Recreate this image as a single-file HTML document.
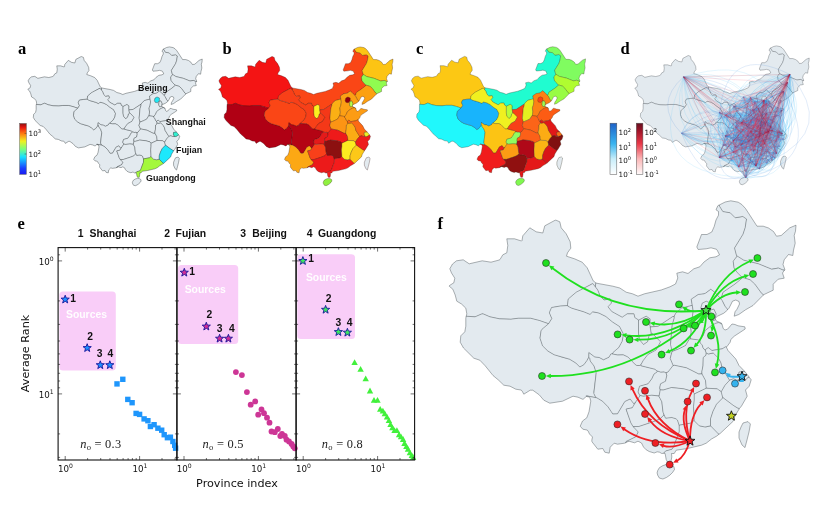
<!DOCTYPE html>
<html><head><meta charset="utf-8"><title>Figure</title>
<style>html,body{margin:0;padding:0;background:#fff}svg{display:block}
</style></head>
<body>
<svg width="830" height="520" viewBox="0 0 830 520" font-family="'Liberation Sans',sans-serif">
<defs><path id="p0" d="M746.8,218.5 743.2,216.2 735.8,217.5 730.8,212.5 723.2,211.2 719.8,205.5 718.8,205.2 717.8,205.8 716,209.8 718.5,211.5 718.5,215.2 716,220 714.2,226.5 711.8,232 707,234.5 701.5,234.5 696.8,247 698.2,249.5 706.2,248.8 711,247.8 716.2,249.2 717,249.8 719.5,254.8 716,256.8 709.8,257.8 704,262 699.8,266.8 693.8,268.8 688,273.5 682.5,271.8 676.8,273.2 677.8,278 675.5,284 670,286.8 661.2,290 644.5,293.8 638,296.2 632.5,293.8 626.2,292.2 619.8,288 612.8,286.2 595.5,283 595,287.2 597.5,290.5 600,296.8 603.5,300.2 610,299.2 611,302.8 607.5,306.2 607.5,306.8 611.2,311.8 622.2,317.8 623.2,317.5 627.8,314 633.5,314 634.5,318 638.2,320.5 639.2,320.5 646.2,316.8 649.8,319.2 649.5,325.8 650.2,327.2 658.8,326.5 673.2,316.8 674.5,316.8 675.8,314 681.8,308.5 692.2,305.8 692.5,304.8 691.5,299.8 697.8,295.2 705.2,293.8 710.5,289.8 714.5,292.8 719.5,298.2 720.8,298.2 722,297.2 722.8,293.5 723.5,292.5 735.5,284.2 743,278 734.5,268 733.5,261.8 737.2,256.8 735,248 743.2,234.8 745.5,228Z"/><path id="p1" d="M595.8,282.8 593.2,280.8 587.2,267.8 582.2,262.2 574.5,258.8 566.5,256.2 567.5,252.8 570.8,248.2 570.2,241.8 566.2,233.8 561.2,227.8 559.8,221.8 556,220.2 555.2,220.2 544.8,225.8 542.8,233 536.2,231.8 529.8,227.8 522.8,235.8 522,240.5 521.5,241 514.5,238.8 506.8,238.8 507.8,245.5 506.8,252.8 502.8,254.8 500,259.5 499.2,260 491,262.2 482.2,260.8 469.2,263.8 463.2,259.8 456.5,260.8 452.5,264 449.8,268.8 451.5,273 454.8,278.2 453.8,282.8 449.5,285.5 449.2,286.2 452.8,289.2 455.2,295 456.8,301.2 461.5,304 465.8,308.2 466.8,313.8 466.2,316.5 475.5,317 482.5,314 489.5,317 499,319 511.2,319.5 519,318.5 530,318.5 539,320.8 548.8,324 552.2,318.5 549.8,312.8 552,307.8 558.8,306.5 567.8,305.8 568.5,299.5 575.5,293.5 592.2,284 594.5,286.8 595.2,287Z"/><path id="p2" d="M466.2,316.2 465.8,318.2 465.8,326.2 464.8,331.8 460.8,335.8 460.2,342.2 463.5,348 473.8,358.2 479.8,360.2 485.2,365.8 493,375.5 498.2,379.8 503.8,385.2 510,386.2 515.8,389.2 521,390 522,390.8 523.8,394.2 530.2,390.2 532.8,390.2 539.2,394.8 543.8,400.2 549.8,403.2 562.5,401.2 573,396.2 578,397.2 582.5,399.2 583.2,399.2 586.8,396 596.2,398 594,392.2 596.5,372.2 594.2,365.5 590.5,360.5 590,358 589.2,357 587.8,357.8 587.5,359 584,363.8 580,366.5 576.2,362.8 570,359 562.2,357 553.2,353.8 548.2,350.8 542.8,345.2 540.2,337.8 541.5,330.5 548,325 548.8,323.8 539.5,320.5 530.5,318.2 518.5,318.2 510.8,319.2 499.5,318.8 490,316.8 483,313.8 482,313.8 475,316.8Z"/><path id="p3" d="M541,330.8 540,338.2 542.5,345.8 547.8,351 554.2,354.8 569.5,359.2 575.8,363 579.8,367 583.8,364.8 587.2,360.2 588,358.2 589,357.5 589.2,353.2 594.2,357.2 599.2,358 603.5,360.2 609.5,357.5 611,354.5 612.5,354 619,348 622.5,341.8 623.8,333.8 620,326.2 613,321.8 606.2,316.2 599.2,312.8 592.2,311.5 589.5,313.8 584.2,311.5 572.2,308 567.8,305.5 560.2,306 551.5,307.5 549.5,312.2 549.5,313.2 551.8,318.5 548.5,323.8 542,329.2Z"/><path id="p4" d="M568.2,299 567.5,304.5 567.8,306.2 571.8,308.2 583.8,311.8 589.5,314.2 590.2,314.2 592.8,311.8 598.8,313 605.8,316.5 612.5,322 619.5,326.5 623.5,334.2 622.2,341.2 618.8,347.5 613,352.5 612.2,354 617.2,355.2 622.8,355 624.8,355.8 629.2,358.8 633,363 636.2,365.8 640.8,365.5 643.5,361 648.8,354.2 656,350.8 661,341.8 661,341.2 653.5,333.8 651,333 649,334.8 647.2,341.2 643.8,344 639.8,339.2 638.8,333.2 638.8,320.2 634.8,317.5 634,313.8 627.2,313.8 622.2,317.2 611.8,311.5 608,306.8 611.5,303 610.2,298.8 604,300 600.2,296.2 597.8,290 592.8,283.5 576.2,292.2Z"/><path id="p5" d="M646.2,316.2 638.5,320.2 638.5,333.8 639.5,339.8 643.5,344.5 647.5,341.8 649.2,335.2 651.5,333.2 651,329 649.8,325.2 650,318.8Z"/><path id="p6" d="M588.8,352.5 588.8,357.2 589.8,358.5 590.2,361 594,366 596.2,372.8 593.8,393.5 596,398 602,401.5 607.8,407.2 612.2,414.2 617.8,414.2 624.8,402.2 629.8,399.5 633.5,404.2 636,402.5 640.5,396 638.5,392.2 638.5,390.8 639.8,386.8 648.5,384 652,379.2 654.2,374.5 657.8,372 657.8,370.8 655.2,369 641.5,365.5 641.2,364.8 639.5,365.5 636.8,365.5 635.5,364.8 628,357 623.2,354.8 617.8,355 611.5,353.8 610.8,354 609,357.2 603.5,359.8 599.2,357.5 594.8,357Z"/><path id="p7" d="M586.2,395.8 586.5,396.5 589.2,397 589.8,397.5 590.8,401 589,411.8 586.8,417.8 582.5,421 580.2,426.2 582.8,429.2 587,430 588,430.8 589.5,434 592.5,437 591.8,440.2 592,441.8 597.8,449.2 602.8,448.5 604.8,452.2 609.2,453.2 610.2,447.2 614.2,443.2 617.5,444.2 624.5,443.2 625.8,442.8 626.5,441.8 636.2,437 638.8,431.5 633.5,426.2 631.5,423.2 626.5,409.8 627.2,409 632.8,408 635.8,403 635.8,402.2 633.8,403.8 630.2,399 624.8,401.5 617.5,413.8 612.8,414 608,406.8 602.5,401.2 596.8,397.8Z"/><path id="p8" d="M674.5,316.5 672.8,316.5 658.2,326.2 650.2,327 651.2,333.2 653,334 660.5,341.8 656,350 647.8,354.5 643.2,360.5 641,364.5 641,365.8 654.8,369.2 657.8,371.5 660.2,372.5 663.8,372.2 665.5,373 668.5,372.2 673,366.5 673.5,365 670.5,358 672,352.5 672.8,351.8 670.8,342.8 672.5,325.2 674.8,317.5Z"/><path id="p9" d="M666.5,373 664.2,372 660.8,372.2 657.5,371 657,372 654,374 651.8,378.8 648,383.8 639.5,386.2 638,392 640,395.8 642.8,396.5 650.8,396 652.2,395.5 659.2,396.2 660.5,391 660,387.8 660.8,384.2 665.8,381.8 667,376Z"/><path id="p10" d="M659.2,396 651.8,395.2 643.2,396.2 640.2,395.5 635.8,401.8 632.2,407.8 626,409 630.8,422.8 633.2,426.8 639.2,426.8 654.2,421.8 660.2,419.2 664.2,415.5 663,410.5 662,401.2Z"/><path id="p11" d="M677.8,419.8 676.5,418.5 672.2,417.2 668.8,417.2 666,418 664.8,415.2 664,415 659.8,419 653.8,421.5 638.8,426.5 633.5,426.5 633.5,427 638.2,432 635.8,436.8 626,441.5 625.5,442.5 629,441.2 634.5,442.8 638,441.2 641.5,443 643.5,447 646.2,449.8 649.2,451.5 654.2,453 657.2,451.8 659.5,452.2 661.8,453.5 664.2,453.2 666,451.2 672.5,449.5 674.8,445.2 677,438 679.5,432.2 679.5,425Z"/><path id="p12" d="M719.2,205 719.5,206.2 722.8,211.5 730.2,212.8 735.2,217.8 742.8,216.5 746.5,219 745.2,227.5 743,234.2 734.5,248 736.5,255.5 737.2,256.8 743.2,260.5 758,264 771.2,269.5 778,268.2 782.5,270.2 784.5,270.2 785,269.8 783,264.5 784.2,259.8 788.5,254.5 792.8,255.5 793.5,250.2 795.2,243.2 794.2,235.5 795.5,231.2 796,225.2 789.8,227.8 781.2,235.5 776.5,236.2 773.5,231.5 768.5,228 763.2,226.2 757,226.2 745.5,208.5 741.8,204.5 738.2,202.2 730.8,200.8 725.2,202Z"/><path id="p13" d="M733.2,261.2 734,268 737.2,272.5 742.5,277.8 750.2,280.2 754.5,284.5 761.2,293.8 763,295 773.2,290.2 773.2,284.2 778.2,279.2 784.2,278.2 782.5,273 784.5,270 783,270 778.5,268 771.8,269.2 758.5,263.8 743.8,260.2 737.5,256.2 736.5,256.8Z"/><path id="p14" d="M750.2,279.8 742.8,277.5 735,284 723,292.2 721.5,297.2 719.8,298 720,299 723,302.8 724.8,306.8 727,309.5 727.8,309.5 729,308.2 732.5,301.2 735.8,300 739,301.5 739.5,304 737,309.2 735,311.8 734.2,316.2 738.8,314.5 745.5,309.8 753,305.5 763.2,295.2 763.2,294.5 761.5,293.2 754.8,284Z"/><path id="p15" d="M692.5,305.2 681.2,308.2 675.5,313.5 674.2,316.2 674.2,318 672.2,324.8 670.5,344.5 672.2,351.5 679,349.2 686,345.8 689.5,339.5 690.5,339 691.5,332.8 690.5,323.8 692.5,318.2 693.5,311.5Z"/><path id="p16" d="M710.8,289.2 705.8,293 704,293.8 698.2,294.5 691.2,299.2 693.2,311 692.2,317.8 690.2,323.2 691.2,331.2 690.2,339 700,340.8 703.5,336 705.5,331 711,326.5 717.8,323 718.8,323 719.5,323.8 721.8,324.5 721.5,323.2 716,320.8 715.5,319.2 713.5,320.2 711.5,320.2 709.8,316.8 710.5,310.8 713,309.5 713.8,310 715.8,314 715.2,317.8 715.8,317.8 717.5,316.2 723.8,313.2 727.5,310 727.5,309.2 725,306.2 722,300.2 715,292.5Z"/><path id="p17" d="M706.2,301.2 702.2,303.2 700.8,308 702.2,311.8 706.8,312.8 710.8,308.8 710.8,303.2Z"/><path id="p18" d="M713.8,309 710.2,310.2 709.5,317.2 711.5,321 715.2,320 716,313.5Z"/><path id="p19" d="M672,351.5 670.2,358.5 673.2,365.5 686,368 698.2,374.2 702.2,374 702,372.2 703.2,366 703.5,358 706.2,355.8 706.5,352.5 705.5,350 704.2,349 703.2,347.2 702.5,344.5 700.5,342.5 700.2,340.5 697.8,339.8 689.5,338.8 685.5,345.5 678.5,349Z"/><path id="p20" d="M744.8,326.8 738,325.8 735,324.5 732,324 727.5,329.2 725,330 723.2,328.5 722,324.2 718.8,322.5 715.8,323.2 710.5,326.2 705.2,330.5 703.2,335.5 699.8,340.2 700.2,343 702.2,345 703,347.8 705,350.2 708.2,348.2 711.2,350.8 723.5,348.8 726.8,346.8 730.2,342.2 730.8,339.5 734.5,336 745.2,329Z"/><path id="p21" d="M659.8,387.2 659.8,389 660.8,390.2 663.8,390.2 672,387.8 683.2,389 691.2,391.2 694.2,394.2 706.8,388.5 705.8,380 702.5,373.8 698.8,374 686.5,367.8 674.2,365.2 672.8,365.8 668,372 666,372.8 666.8,375.5 665.5,381.2 660.5,383.8Z"/><path id="p22" d="M660.2,389.8 659,396.5 661.8,401.8 663,412.2 665.5,418.2 671.8,417.5 676,418.8 677.5,420.2 679.2,425.5 691.5,423.2 694.5,420.8 694.5,415.2 693.8,409 694.5,400.8 694.5,393.8 692.2,391.2 683.8,388.8 671.5,387.5 663.2,390Z"/><path id="p23" d="M718.8,433.2 711,425.5 706,426.8 700.5,425.8 694.8,420.5 694,420.5 691,423 679.2,425.2 679.2,431.8 673.5,446.8 672,449.2 665.5,451 664,452.8 664,453.2 664.8,453.2 665.2,454 666.2,459.5 667.5,462.2 670.8,462.2 671.8,457 671.5,453.5 674.2,453.5 676.2,450.2 687.5,448.5 701.5,445.2 706.2,443.2 711.5,439 716.8,436 719,434.2Z"/><path id="p24" d="M706.2,352.5 706,355.2 703.2,357.5 703,365.5 701.8,371.8 702,374 705.5,380.5 706.2,388.2 710.8,389 716.8,389 718.5,390.5 721.8,392 725.2,385.8 729.5,381.2 730,380 722.5,368 721.2,362.5 718.8,357.8 713.8,352.8 708.8,353.8Z"/><path id="p25" d="M717.2,388.8 706.2,388.2 694.2,394 694.2,400.2 693.5,406.5 694.2,420.8 699.2,425.8 705,427 710.8,425.8 710.8,419.2 713.2,411.8 716.8,404.8 723,398.2 722,392.2Z"/><path id="p26" d="M705.2,349.8 706,352.8 708.2,354 713.2,353 718.5,358.2 721,363 722,368 729.5,380.2 730.8,380.2 733,379.2 736.5,380.5 740.2,380.2 740,377 738.8,376 739.2,372.5 744.5,371.8 744.5,371.2 739,365.5 735.8,359 728,350.5 726.2,346.8 725.5,346.8 722.2,348.8 712,350.5 708.2,347.5Z"/><path id="p27" d="M749,377 747.2,377.2 746,379 742.2,380.2 737,380.2 733.5,378.8 729.8,380 725,385.2 721.2,391.8 722.8,398 733,405.8 737,408.2 739.2,408.8 741.5,406 747.2,396.2 745.5,390 749.2,386.2 751.2,379.8Z"/><path id="p28" d="M723.2,397.8 722.8,397.8 716.5,404.2 713,411.2 710.5,418.8 710.5,425.8 718.5,434 719.8,433.8 733.2,421.2 735,415.8 739.2,409 739.2,408.5 737.5,408 733.5,405.5Z"/><path id="p29" d="M744.8,371.5 739,372 738.5,376.5 739.8,377.5 740.2,380.5 742.8,380.5 746.5,379.2 747.8,377.5 748.8,377.2 748.8,376.5Z"/><path id="p30" d="M657.7,470.6 659.4,467.7 662.9,465.6 667,464.3 671,464.8 673.9,466.6 674.5,469.5 672.7,472.3 669.8,475.2 666.4,477.5 662.9,479 659.4,478.1 657.7,475.2 657.1,472.9Z"/><path id="p31" d="M743,423 748,421.6 750.4,424 749,432 747,440 745,447.6 742,445 739,438 739,432 741,427Z"/></defs>
<g transform="translate(-198.15,-53.30) scale(0.503,0.499)" stroke="#2c3236" stroke-width="0.80" stroke-linejoin="round"><use href="#p0" fill="#e3eaef"/><use href="#p1" fill="#e3eaef"/><use href="#p2" fill="#e3eaef"/><use href="#p3" fill="#e3eaef"/><use href="#p4" fill="#e3eaef"/><use href="#p5" fill="#e3eaef"/><use href="#p6" fill="#e3eaef"/><use href="#p7" fill="#e3eaef"/><use href="#p8" fill="#e3eaef"/><use href="#p9" fill="#e3eaef"/><use href="#p10" fill="#e3eaef"/><use href="#p11" fill="#e3eaef"/><use href="#p12" fill="#e3eaef"/><use href="#p13" fill="#e3eaef"/><use href="#p14" fill="#e3eaef"/><use href="#p15" fill="#e3eaef"/><use href="#p16" fill="#e3eaef"/><use href="#p17" fill="#20e8f4"/><use href="#p18" fill="#e3eaef"/><use href="#p19" fill="#e3eaef"/><use href="#p20" fill="#e3eaef"/><use href="#p21" fill="#e3eaef"/><use href="#p22" fill="#e3eaef"/><use href="#p23" fill="#a4f83c"/><use href="#p24" fill="#e3eaef"/><use href="#p25" fill="#e3eaef"/><use href="#p26" fill="#e3eaef"/><use href="#p27" fill="#e3eaef"/><use href="#p28" fill="#1ce8fc"/><use href="#p29" fill="#30f0d0"/><use href="#p30" fill="#e3eaef"/><use href="#p31" fill="#e3eaef"/></g><g transform="translate(-7.35,-53.30) scale(0.503,0.499)" stroke="#301010" stroke-width="0.60" stroke-linejoin="round"><use href="#p0" fill="#fa4616"/><use href="#p1" fill="#f41414"/><use href="#p2" fill="#b00014"/><use href="#p3" fill="#fa4616"/><use href="#p4" fill="#f84018"/><use href="#p5" fill="#fcf020"/><use href="#p6" fill="#b40414"/><use href="#p7" fill="#fca814"/><use href="#p8" fill="#f43818"/><use href="#p9" fill="#e41a1a"/><use href="#p10" fill="#f8401a"/><use href="#p11" fill="#ec1a1a"/><use href="#p12" fill="#fcc414"/><use href="#p13" fill="#90fc50"/><use href="#p14" fill="#fca010"/><use href="#p15" fill="#fbb014"/><use href="#p16" fill="#fca014"/><use href="#p17" fill="#900010"/><use href="#p18" fill="#b4fc48"/><use href="#p19" fill="#fc9414"/><use href="#p20" fill="#fc9c14"/><use href="#p21" fill="#ee1a1a"/><use href="#p22" fill="#8c1010"/><use href="#p23" fill="#f41c1c"/><use href="#p24" fill="#fcac14"/><use href="#p25" fill="#fcec20"/><use href="#p26" fill="#fc6a14"/><use href="#p27" fill="#ee1c1c"/><use href="#p28" fill="#fcc818"/><use href="#p29" fill="#e8f428"/><use href="#p30" fill="#90f040"/><use href="#p31" fill="#e3eaef"/></g><g transform="translate(185.15,-53.50) scale(0.503,0.499)" stroke="#303020" stroke-width="0.60" stroke-linejoin="round"><use href="#p0" fill="#20fcd0"/><use href="#p1" fill="#fcc814"/><use href="#p2" fill="#20f8fc"/><use href="#p3" fill="#18b4fc"/><use href="#p4" fill="#f0f020"/><use href="#p5" fill="#b8fc38"/><use href="#p6" fill="#fcc414"/><use href="#p7" fill="#f01c1c"/><use href="#p8" fill="#f84018"/><use href="#p9" fill="#90fc60"/><use href="#p10" fill="#fc9c14"/><use href="#p11" fill="#901010"/><use href="#p12" fill="#80fc60"/><use href="#p13" fill="#b0fc30"/><use href="#p14" fill="#98fc44"/><use href="#p15" fill="#e4f020"/><use href="#p16" fill="#fc8014"/><use href="#p17" fill="#fc4014"/><use href="#p18" fill="#a0fc50"/><use href="#p19" fill="#fc6418"/><use href="#p20" fill="#fc5c14"/><use href="#p21" fill="#fc6018"/><use href="#p22" fill="#b00818"/><use href="#p23" fill="#e41818"/><use href="#p24" fill="#fcac14"/><use href="#p25" fill="#fcb414"/><use href="#p26" fill="#e01818"/><use href="#p27" fill="#801010"/><use href="#p28" fill="#d81418"/><use href="#p29" fill="#fc7014"/><use href="#p30" fill="#80f850"/><use href="#p31" fill="#e3eaef"/></g><g transform="translate(408.85,-54.30) scale(0.503,0.499)" stroke="#3a4248" stroke-width="0.66" stroke-linejoin="round"><use href="#p0" fill="#e3eaef"/><use href="#p1" fill="#e3eaef"/><use href="#p2" fill="#e3eaef"/><use href="#p3" fill="#e3eaef"/><use href="#p4" fill="#e3eaef"/><use href="#p5" fill="#e3eaef"/><use href="#p6" fill="#e3eaef"/><use href="#p7" fill="#e3eaef"/><use href="#p8" fill="#e3eaef"/><use href="#p9" fill="#e3eaef"/><use href="#p10" fill="#e3eaef"/><use href="#p11" fill="#e3eaef"/><use href="#p12" fill="#e3eaef"/><use href="#p13" fill="#e3eaef"/><use href="#p14" fill="#e3eaef"/><use href="#p15" fill="#e3eaef"/><use href="#p16" fill="#e3eaef"/><use href="#p17" fill="#e3eaef"/><use href="#p18" fill="#e3eaef"/><use href="#p19" fill="#e3eaef"/><use href="#p20" fill="#e3eaef"/><use href="#p21" fill="#e3eaef"/><use href="#p22" fill="#e3eaef"/><use href="#p23" fill="#e3eaef"/><use href="#p24" fill="#e3eaef"/><use href="#p25" fill="#e3eaef"/><use href="#p26" fill="#e3eaef"/><use href="#p27" fill="#e3eaef"/><use href="#p28" fill="#e3eaef"/><use href="#p29" fill="#e3eaef"/><use href="#p30" fill="#e3eaef"/><use href="#p31" fill="#e3eaef"/></g><g transform="translate(0.00,0.00) scale(1,1)" stroke="#4a5258" stroke-width="0.45" stroke-linejoin="round"><use href="#p0" fill="#e3eaef"/><use href="#p1" fill="#e3eaef"/><use href="#p2" fill="#e3eaef"/><use href="#p3" fill="#e3eaef"/><use href="#p4" fill="#e3eaef"/><use href="#p5" fill="#e3eaef"/><use href="#p6" fill="#e3eaef"/><use href="#p7" fill="#e3eaef"/><use href="#p8" fill="#e3eaef"/><use href="#p9" fill="#e3eaef"/><use href="#p10" fill="#e3eaef"/><use href="#p11" fill="#e3eaef"/><use href="#p12" fill="#e3eaef"/><use href="#p13" fill="#e3eaef"/><use href="#p14" fill="#e3eaef"/><use href="#p15" fill="#e3eaef"/><use href="#p16" fill="#e3eaef"/><use href="#p17" fill="#e3eaef"/><use href="#p18" fill="#e3eaef"/><use href="#p19" fill="#e3eaef"/><use href="#p20" fill="#e3eaef"/><use href="#p21" fill="#e3eaef"/><use href="#p22" fill="#e3eaef"/><use href="#p23" fill="#e3eaef"/><use href="#p24" fill="#e3eaef"/><use href="#p25" fill="#e3eaef"/><use href="#p26" fill="#e3eaef"/><use href="#p27" fill="#e3eaef"/><use href="#p28" fill="#e3eaef"/><use href="#p29" fill="#e3eaef"/><use href="#p30" fill="#e3eaef"/><use href="#p31" fill="#e3eaef"/></g>
<text x="18" y="54" font-family="'Liberation Serif',serif" font-weight="bold" font-size="16.5" fill="#000">a</text>
<text x="222.5" y="54" font-family="'Liberation Serif',serif" font-weight="bold" font-size="16.5" fill="#000">b</text>
<text x="416" y="54" font-family="'Liberation Serif',serif" font-weight="bold" font-size="16.5" fill="#000">c</text>
<text x="620.5" y="54" font-family="'Liberation Serif',serif" font-weight="bold" font-size="16.5" fill="#000">d</text>
<text x="17.5" y="228.6" font-family="'Liberation Serif',serif" font-weight="bold" font-size="16.5" fill="#000">e</text>
<text x="437.6" y="228.6" font-family="'Liberation Serif',serif" font-weight="bold" font-size="16.5" fill="#000">f</text>
<text x="138" y="91.1" font-weight="bold" font-size="8.9" fill="#111">Beijing</text>
<text x="165.8" y="125.2" font-weight="bold" font-size="8.9" fill="#111">Shanghai</text>
<text x="176" y="152.6" font-weight="bold" font-size="8.9" fill="#111">Fujian</text>
<text x="146" y="181.1" font-weight="bold" font-size="8.9" fill="#111">Guangdong</text>
<defs><linearGradient id="jet" x1="0" y1="1" x2="0" y2="0"><stop offset="0" stop-color="#1a1af0"/><stop offset="0.12" stop-color="#1a40ff"/><stop offset="0.34" stop-color="#18e0ff"/><stop offset="0.5" stop-color="#7cff7a"/><stop offset="0.65" stop-color="#f0f020"/><stop offset="0.8" stop-color="#ff7a10"/><stop offset="0.92" stop-color="#e81810"/><stop offset="1" stop-color="#8c1010"/></linearGradient><linearGradient id="gblue" x1="0" y1="1" x2="0" y2="0"><stop offset="0" stop-color="#ffffff"/><stop offset="0.3" stop-color="#c8eefa"/><stop offset="0.6" stop-color="#38b4f0"/><stop offset="1" stop-color="#1e62c8"/></linearGradient><linearGradient id="gred" x1="0" y1="1" x2="0" y2="0"><stop offset="0" stop-color="#fffafa"/><stop offset="0.3" stop-color="#fcb8b8"/><stop offset="0.6" stop-color="#e83848"/><stop offset="0.85" stop-color="#a01428"/><stop offset="1" stop-color="#641020"/></linearGradient></defs>
<rect x="19.6" y="123.4" width="6.8" height="51" fill="url(#jet)" stroke="#666" stroke-width="0.5"/>
<text x="28.6" y="136" font-family="'DejaVu Sans',sans-serif" font-size="7.2" text-anchor="start" fill="#111">10<tspan dy="-3.02" font-size="5.04">3</tspan></text>
<text x="28.6" y="156.6" font-family="'DejaVu Sans',sans-serif" font-size="7.2" text-anchor="start" fill="#111">10<tspan dy="-3.02" font-size="5.04">2</tspan></text>
<text x="28.6" y="177.2" font-family="'DejaVu Sans',sans-serif" font-size="7.2" text-anchor="start" fill="#111">10<tspan dy="-3.02" font-size="5.04">1</tspan></text>
<path d="M24.6,133.4h1.8M24.6,154h1.8M615,132.9h1.8M615,147h1.8M615,160.9h1.8M641.1,132.9h1.8M641.1,147h1.8M641.1,160.9h1.8" stroke="#333" stroke-width="0.5" fill="none"/>
<rect x="610" y="123.2" width="6.8" height="51.2" fill="url(#gblue)" stroke="#555" stroke-width="0.5"/>
<rect x="636.3" y="123.2" width="6.6" height="51.2" fill="url(#gred)" stroke="#555" stroke-width="0.5"/>
<text x="618.6" y="135.4" font-family="'DejaVu Sans',sans-serif" font-size="7.2" text-anchor="start" fill="#111">10<tspan dy="-3.02" font-size="5.04">2</tspan></text>
<text x="618.6" y="149.5" font-family="'DejaVu Sans',sans-serif" font-size="7.2" text-anchor="start" fill="#111">10<tspan dy="-3.02" font-size="5.04">1</tspan></text>
<text x="618.6" y="163.4" font-family="'DejaVu Sans',sans-serif" font-size="7.2" text-anchor="start" fill="#111">10<tspan dy="-3.02" font-size="5.04">0</tspan></text>
<text x="618.6" y="177.2" font-family="'DejaVu Sans',sans-serif" font-size="7.2" text-anchor="start" fill="#111">10<tspan dy="-3.02" font-size="5.04">-1</tspan></text>
<text x="644.6" y="135.4" font-family="'DejaVu Sans',sans-serif" font-size="7.2" text-anchor="start" fill="#111">10<tspan dy="-3.02" font-size="5.04">2</tspan></text>
<text x="644.6" y="149.5" font-family="'DejaVu Sans',sans-serif" font-size="7.2" text-anchor="start" fill="#111">10<tspan dy="-3.02" font-size="5.04">1</tspan></text>
<text x="644.6" y="163.4" font-family="'DejaVu Sans',sans-serif" font-size="7.2" text-anchor="start" fill="#111">10<tspan dy="-3.02" font-size="5.04">0</tspan></text>
<text x="644.6" y="177.2" font-family="'DejaVu Sans',sans-serif" font-size="7.2" text-anchor="start" fill="#111">10<tspan dy="-3.02" font-size="5.04">-1</tspan></text>
<text x="77.7" y="236.6" font-weight="bold" font-size="10.4" fill="#111">1</text>
<text x="89.6" y="236.6" font-weight="bold" font-size="10.4" fill="#111">Shanghai</text>
<text x="164.3" y="236.6" font-weight="bold" font-size="10.4" fill="#111">2</text>
<text x="175.6" y="236.6" font-weight="bold" font-size="10.4" fill="#111">Fujian</text>
<text x="240.3" y="236.6" font-weight="bold" font-size="10.4" fill="#111">3</text>
<text x="252.3" y="236.6" font-weight="bold" font-size="10.4" fill="#111">Beijing</text>
<text x="306.7" y="236.6" font-weight="bold" font-size="10.4" fill="#111">4</text>
<text x="318" y="236.6" font-weight="bold" font-size="10.4" fill="#111">Guangdong</text>
<rect x="59.4" y="291.4" width="56.4" height="79.2" rx="3.5" fill="#f9cdf8"/>
<rect x="178.0" y="265.1" width="60.2" height="78.9" rx="3.5" fill="#f9cdf8"/>
<rect x="297.3" y="254.3" width="57.7" height="84.7" rx="3.5" fill="#f9cdf8"/>
<text x="86.5" y="318.2" font-weight="bold" font-size="10.4" fill="#ffffff" text-anchor="middle" fill-opacity="0.95">Sources</text>
<text x="205.2" y="293.0" font-weight="bold" font-size="10.4" fill="#ffffff" text-anchor="middle" fill-opacity="0.95">Sources</text>
<text x="326.4" y="281.3" font-weight="bold" font-size="10.4" fill="#ffffff" text-anchor="middle" fill-opacity="0.95">Sources</text>
<g fill="#1e96fc"><rect x="114.3" y="381.2" width="5.4" height="5.4"/><rect x="120.1" y="376.6" width="5.4" height="5.4"/><rect x="125.1" y="396.7" width="5.4" height="5.4"/><rect x="129.4" y="400.0" width="5.4" height="5.4"/><rect x="133.4" y="410.7" width="5.4" height="5.4"/><rect x="136.9" y="411.7" width="5.4" height="5.4"/><rect x="141.4" y="416.2" width="5.4" height="5.4"/><rect x="145.2" y="418.0" width="5.4" height="5.4"/><rect x="147.7" y="423.8" width="5.4" height="5.4"/><rect x="151.4" y="422.0" width="5.4" height="5.4"/><rect x="155.2" y="425.5" width="5.4" height="5.4"/><rect x="159.0" y="427.5" width="5.4" height="5.4"/><rect x="161.5" y="432.0" width="5.4" height="5.4"/><rect x="164.7" y="435.0" width="5.4" height="5.4"/><rect x="167.7" y="434.5" width="5.4" height="5.4"/><rect x="170.2" y="438.8" width="5.4" height="5.4"/><rect x="172.0" y="442.6" width="5.4" height="5.4"/><rect x="172.9" y="445.5" width="5.4" height="5.4"/></g>
<g fill="#cd3696"><circle cx="235.9" cy="372.1" r="2.9"/><circle cx="241.9" cy="375.1" r="2.9"/><circle cx="246.9" cy="392.1" r="2.9"/><circle cx="250.7" cy="404.7" r="2.9"/><circle cx="255.2" cy="401.4" r="2.9"/><circle cx="258.2" cy="414.7" r="2.9"/><circle cx="261.5" cy="409.4" r="2.9"/><circle cx="264.0" cy="413.2" r="2.9"/><circle cx="267.0" cy="417.7" r="2.9"/><circle cx="269.5" cy="422.7" r="2.9"/><circle cx="271.5" cy="431.5" r="2.9"/><circle cx="274.8" cy="432.2" r="2.9"/><circle cx="277.8" cy="429.0" r="2.9"/><circle cx="280.3" cy="436.0" r="2.9"/><circle cx="282.0" cy="434.0" r="2.9"/><circle cx="284.8" cy="436.0" r="2.9"/><circle cx="286.5" cy="439.7" r="2.9"/><circle cx="289.0" cy="441.5" r="2.9"/><circle cx="291.6" cy="444.0" r="2.9"/><circle cx="293.3" cy="446.5" r="2.9"/><circle cx="294.8" cy="448.3" r="2.9"/></g>
<g fill="#42f03c"><path d="M354.6,359.3 L357.8,365.1 L351.4,365.1Z"/><path d="M360.6,366.0 L363.8,371.8 L357.4,371.8Z"/><path d="M365.7,375.5 L368.9,381.3 L362.5,381.3Z"/><path d="M370.0,387.6 L373.2,393.4 L366.8,393.4Z"/><path d="M374.0,397.0 L377.2,402.8 L370.8,402.8Z"/><path d="M377.5,397.0 L380.7,402.8 L374.3,402.8Z"/><path d="M380.2,405.9 L383.4,411.7 L377.0,411.7Z"/><path d="M382.9,407.8 L386.1,413.6 L379.7,413.6Z"/><path d="M384.8,410.5 L388.0,416.3 L381.6,416.3Z"/><path d="M387.0,413.7 L390.2,419.5 L383.8,419.5Z"/><path d="M388.9,417.2 L392.1,423.0 L385.7,423.0Z"/><path d="M390.5,421.2 L393.7,427.0 L387.3,427.0Z"/><path d="M392.4,424.5 L395.6,430.3 L389.2,430.3Z"/><path d="M394.5,427.2 L397.7,433.0 L391.3,433.0Z"/><path d="M396.9,427.2 L400.1,433.0 L393.7,433.0Z"/><path d="M399.1,431.5 L402.3,437.3 L395.9,437.3Z"/><path d="M401.0,433.4 L404.2,439.2 L397.8,439.2Z"/><path d="M403.1,436.1 L406.3,441.9 L399.9,441.9Z"/><path d="M404.5,440.1 L407.7,445.9 L401.3,445.9Z"/><path d="M406.4,443.3 L409.6,449.1 L403.2,449.1Z"/><path d="M408.0,446.0 L411.2,451.8 L404.8,451.8Z"/><path d="M409.9,449.5 L413.1,455.3 L406.7,455.3Z"/><path d="M411.8,452.2 L415.0,458.0 L408.6,458.0Z"/><path d="M413.1,454.1 L416.3,459.9 L409.9,459.9Z"/></g>
<polygon points="65.20,295.20 66.26,298.04 69.29,298.17 66.92,300.06 67.73,302.98 65.20,301.31 62.67,302.98 63.48,300.06 61.11,298.17 64.14,298.04" fill="#1e90ff" stroke="#14149a" stroke-width="0.9" stroke-linejoin="miter"/>
<polygon points="87.20,343.70 88.26,346.54 91.29,346.67 88.92,348.56 89.73,351.48 87.20,349.81 84.67,351.48 85.48,348.56 83.11,346.67 86.14,346.54" fill="#1e90ff" stroke="#14149a" stroke-width="0.9" stroke-linejoin="miter"/>
<polygon points="100.30,360.80 101.36,363.64 104.39,363.77 102.02,365.66 102.83,368.58 100.30,366.91 97.77,368.58 98.58,365.66 96.21,363.77 99.24,363.64" fill="#1e90ff" stroke="#14149a" stroke-width="0.9" stroke-linejoin="miter"/>
<polygon points="109.80,360.80 110.86,363.64 113.89,363.77 111.52,365.66 112.33,368.58 109.80,366.91 107.27,368.58 108.08,365.66 105.71,363.77 108.74,363.64" fill="#1e90ff" stroke="#14149a" stroke-width="0.9" stroke-linejoin="miter"/>
<polygon points="184.30,268.30 185.36,271.14 188.39,271.27 186.02,273.16 186.83,276.08 184.30,274.41 181.77,276.08 182.58,273.16 180.21,271.27 183.24,271.14" fill="#d02c96" stroke="#14149a" stroke-width="0.9" stroke-linejoin="miter"/>
<polygon points="206.30,322.20 207.36,325.04 210.39,325.17 208.02,327.06 208.83,329.98 206.30,328.31 203.77,329.98 204.58,327.06 202.21,325.17 205.24,325.04" fill="#d02c96" stroke="#14149a" stroke-width="0.9" stroke-linejoin="miter"/>
<polygon points="219.60,334.30 220.66,337.14 223.69,337.27 221.32,339.16 222.13,342.08 219.60,340.41 217.07,342.08 217.88,339.16 215.51,337.27 218.54,337.14" fill="#d02c96" stroke="#14149a" stroke-width="0.9" stroke-linejoin="miter"/>
<polygon points="228.40,334.30 229.46,337.14 232.49,337.27 230.12,339.16 230.93,342.08 228.40,340.41 225.87,342.08 226.68,339.16 224.31,337.27 227.34,337.14" fill="#d02c96" stroke="#14149a" stroke-width="0.9" stroke-linejoin="miter"/>
<polygon points="302.90,256.60 303.96,259.44 306.99,259.57 304.62,261.46 305.43,264.38 302.90,262.71 300.37,264.38 301.18,261.46 298.81,259.57 301.84,259.44" fill="#3ce860" stroke="#14149a" stroke-width="0.9" stroke-linejoin="miter"/>
<polygon points="325.60,305.40 326.66,308.24 329.69,308.37 327.32,310.26 328.13,313.18 325.60,311.51 323.07,313.18 323.88,310.26 321.51,308.37 324.54,308.24" fill="#3ce860" stroke="#14149a" stroke-width="0.9" stroke-linejoin="miter"/>
<polygon points="338.40,327.70 339.46,330.54 342.49,330.67 340.12,332.56 340.93,335.48 338.40,333.81 335.87,335.48 336.68,332.56 334.31,330.67 337.34,330.54" fill="#3ce860" stroke="#14149a" stroke-width="0.9" stroke-linejoin="miter"/>
<polygon points="347.40,328.30 348.46,331.14 351.49,331.27 349.12,333.16 349.93,336.08 347.40,334.41 344.87,336.08 345.68,333.16 343.31,331.27 346.34,331.14" fill="#3ce860" stroke="#14149a" stroke-width="0.9" stroke-linejoin="miter"/>
<text x="73.2" y="301.8" font-weight="bold" font-size="10.3" fill="#111" text-anchor="middle">1</text>
<text x="90.0" y="339.5" font-weight="bold" font-size="10.3" fill="#111" text-anchor="middle">2</text>
<text x="99.6" y="357.2" font-weight="bold" font-size="10.3" fill="#111" text-anchor="middle">3</text>
<text x="110.3" y="357.2" font-weight="bold" font-size="10.3" fill="#111" text-anchor="middle">4</text>
<text x="192.2" y="274.8" font-weight="bold" font-size="10.3" fill="#111" text-anchor="middle">1</text>
<text x="209.3" y="317.8" font-weight="bold" font-size="10.3" fill="#111" text-anchor="middle">2</text>
<text x="219.6" y="332.3" font-weight="bold" font-size="10.3" fill="#111" text-anchor="middle">3</text>
<text x="231.9" y="332.3" font-weight="bold" font-size="10.3" fill="#111" text-anchor="middle">4</text>
<text x="311.2" y="262.2" font-weight="bold" font-size="10.3" fill="#111" text-anchor="middle">1</text>
<text x="328.5" y="301.8" font-weight="bold" font-size="10.3" fill="#111" text-anchor="middle">2</text>
<text x="338.4" y="326.0" font-weight="bold" font-size="10.3" fill="#111" text-anchor="middle">3</text>
<text x="349.7" y="326.0" font-weight="bold" font-size="10.3" fill="#111" text-anchor="middle">4</text>
<text x="80.2" y="447.8" font-family="'Liberation Serif',serif" font-size="12.4" fill="#222" letter-spacing="0.25"><tspan font-style="italic">n</tspan><tspan font-size="8.6" dy="2.4">o</tspan><tspan dy="-2.4"> = 0.3</tspan></text>
<text x="202.6" y="447.8" font-family="'Liberation Serif',serif" font-size="12.4" fill="#222" letter-spacing="0.25"><tspan font-style="italic">n</tspan><tspan font-size="8.6" dy="2.4">o</tspan><tspan dy="-2.4"> = 0.5</tspan></text>
<text x="321.8" y="447.8" font-family="'Liberation Serif',serif" font-size="12.4" fill="#222" letter-spacing="0.25"><tspan font-style="italic">n</tspan><tspan font-size="8.6" dy="2.4">o</tspan><tspan dy="-2.4"> = 0.8</tspan></text>
<rect x="58.1" y="247.6" width="118.8" height="212.4" fill="none" stroke="#111" stroke-width="1.1"/>
<rect x="176.9" y="247.6" width="119.2" height="212.4" fill="none" stroke="#111" stroke-width="1.1"/>
<rect x="296.1" y="247.6" width="118.5" height="212.4" fill="none" stroke="#111" stroke-width="1.1"/>
<path d="M65.2,460.0 v-4 M65.2,247.6 v4 M87.6,460.0 v-2 M87.6,247.6 v2 M100.7,460.0 v-2 M100.7,247.6 v2 M110.0,460.0 v-2 M110.0,247.6 v2 M117.2,460.0 v-2 M117.2,247.6 v2 M123.1,460.0 v-2 M123.1,247.6 v2 M128.1,460.0 v-2 M128.1,247.6 v2 M132.4,460.0 v-2 M132.4,247.6 v2 M136.2,460.0 v-2 M136.2,247.6 v2 M139.6,460.0 v-4 M139.6,247.6 v4 M162.0,460.0 v-2 M162.0,247.6 v2 M175.1,460.0 v-2 M175.1,247.6 v2 M58.1,254.8 h2 M176.9,254.8 h-2 M58.1,260.9 h4 M176.9,260.9 h-4 M58.1,300.9 h2 M176.9,300.9 h-2 M58.1,324.4 h2 M176.9,324.4 h-2 M58.1,341.0 h2 M176.9,341.0 h-2 M58.1,353.9 h2 M176.9,353.9 h-2 M58.1,364.4 h2 M176.9,364.4 h-2 M58.1,373.3 h2 M176.9,373.3 h-2 M58.1,381.0 h2 M176.9,381.0 h-2 M58.1,387.8 h2 M176.9,387.8 h-2 M58.1,393.9 h4 M176.9,393.9 h-4 M58.1,433.9 h2 M176.9,433.9 h-2 M58.1,457.4 h2 M176.9,457.4 h-2 M184.0,460.0 v-4 M184.0,247.6 v4 M206.4,460.0 v-2 M206.4,247.6 v2 M219.5,460.0 v-2 M219.5,247.6 v2 M228.8,460.0 v-2 M228.8,247.6 v2 M236.0,460.0 v-2 M236.0,247.6 v2 M241.9,460.0 v-2 M241.9,247.6 v2 M246.9,460.0 v-2 M246.9,247.6 v2 M251.2,460.0 v-2 M251.2,247.6 v2 M255.0,460.0 v-2 M255.0,247.6 v2 M258.4,460.0 v-4 M258.4,247.6 v4 M280.8,460.0 v-2 M280.8,247.6 v2 M293.9,460.0 v-2 M293.9,247.6 v2 M176.9,254.8 h2 M296.1,254.8 h-2 M176.9,260.9 h4 M296.1,260.9 h-4 M176.9,300.9 h2 M296.1,300.9 h-2 M176.9,324.4 h2 M296.1,324.4 h-2 M176.9,341.0 h2 M296.1,341.0 h-2 M176.9,353.9 h2 M296.1,353.9 h-2 M176.9,364.4 h2 M296.1,364.4 h-2 M176.9,373.3 h2 M296.1,373.3 h-2 M176.9,381.0 h2 M296.1,381.0 h-2 M176.9,387.8 h2 M296.1,387.8 h-2 M176.9,393.9 h4 M296.1,393.9 h-4 M176.9,433.9 h2 M296.1,433.9 h-2 M176.9,457.4 h2 M296.1,457.4 h-2 M303.2,460.0 v-4 M303.2,247.6 v4 M325.6,460.0 v-2 M325.6,247.6 v2 M338.7,460.0 v-2 M338.7,247.6 v2 M348.0,460.0 v-2 M348.0,247.6 v2 M355.2,460.0 v-2 M355.2,247.6 v2 M361.1,460.0 v-2 M361.1,247.6 v2 M366.1,460.0 v-2 M366.1,247.6 v2 M370.4,460.0 v-2 M370.4,247.6 v2 M374.2,460.0 v-2 M374.2,247.6 v2 M377.6,460.0 v-4 M377.6,247.6 v4 M400.0,460.0 v-2 M400.0,247.6 v2 M413.1,460.0 v-2 M413.1,247.6 v2 M296.1,254.8 h2 M414.6,254.8 h-2 M296.1,260.9 h4 M414.6,260.9 h-4 M296.1,300.9 h2 M414.6,300.9 h-2 M296.1,324.4 h2 M414.6,324.4 h-2 M296.1,341.0 h2 M414.6,341.0 h-2 M296.1,353.9 h2 M414.6,353.9 h-2 M296.1,364.4 h2 M414.6,364.4 h-2 M296.1,373.3 h2 M414.6,373.3 h-2 M296.1,381.0 h2 M414.6,381.0 h-2 M296.1,387.8 h2 M414.6,387.8 h-2 M296.1,393.9 h4 M414.6,393.9 h-4 M296.1,433.9 h2 M414.6,433.9 h-2 M296.1,457.4 h2 M414.6,457.4 h-2 " stroke="#111" stroke-width="0.6" fill="none"/>
<text x="58.0" y="471.8" font-family="'DejaVu Sans',sans-serif" font-size="8.7" text-anchor="start" fill="#111">10<tspan dy="-3.65" font-size="6.09">0</tspan></text>
<text x="132.40000000000003" y="471.8" font-family="'DejaVu Sans',sans-serif" font-size="8.7" text-anchor="start" fill="#111">10<tspan dy="-3.65" font-size="6.09">1</tspan></text>
<text x="176.8" y="471.8" font-family="'DejaVu Sans',sans-serif" font-size="8.7" text-anchor="start" fill="#111">10<tspan dy="-3.65" font-size="6.09">0</tspan></text>
<text x="251.2" y="471.8" font-family="'DejaVu Sans',sans-serif" font-size="8.7" text-anchor="start" fill="#111">10<tspan dy="-3.65" font-size="6.09">1</tspan></text>
<text x="296.00000000000006" y="471.8" font-family="'DejaVu Sans',sans-serif" font-size="8.7" text-anchor="start" fill="#111">10<tspan dy="-3.65" font-size="6.09">0</tspan></text>
<text x="370.40000000000003" y="471.8" font-family="'DejaVu Sans',sans-serif" font-size="8.7" text-anchor="start" fill="#111">10<tspan dy="-3.65" font-size="6.09">1</tspan></text>
<text x="38.8" y="264.7" font-family="'DejaVu Sans',sans-serif" font-size="8.7" text-anchor="start" fill="#111">10<tspan dy="-3.65" font-size="6.09">0</tspan></text>
<text x="38.8" y="397.7" font-family="'DejaVu Sans',sans-serif" font-size="8.7" text-anchor="start" fill="#111">10<tspan dy="-3.65" font-size="6.09">1</tspan></text>
<text x="237" y="486.6" font-family="'DejaVu Sans',sans-serif" font-size="11.2" text-anchor="middle" fill="#111">Province index</text>
<text transform="translate(28.6,353.5) rotate(-90)" font-family="'DejaVu Sans',sans-serif" font-size="11.2" text-anchor="middle" fill="#111">Average Rank</text>
<path d="M706.0,310.3 Q616.5,318.6 552.9,268.5" fill="none" stroke="#1fe01f" stroke-width="1.8" stroke-linecap="round"/><path d="M549.0,265.4 L554.3,266.6 L551.5,270.3Z" fill="#1fe01f"/>
<path d="M706.0,310.3 Q637.1,375.9 550.8,376.0" fill="none" stroke="#1fe01f" stroke-width="1.8" stroke-linecap="round"/><path d="M545.8,376.0 L550.8,373.7 L550.8,378.3Z" fill="#1fe01f"/>
<path d="M706.0,310.3 Q721.2,273.9 749.3,261.5" fill="none" stroke="#1fe01f" stroke-width="1.8" stroke-linecap="round"/><path d="M753.9,259.5 L750.3,263.6 L748.4,259.4Z" fill="#1fe01f"/>
<path d="M706.0,310.3 Q722.2,282.8 744.5,276.4" fill="none" stroke="#1fe01f" stroke-width="1.8" stroke-linecap="round"/><path d="M749.3,275.0 L745.2,278.6 L743.9,274.2Z" fill="#1fe01f"/>
<path d="M706.0,310.3 Q721.8,293.3 736.2,292.5" fill="none" stroke="#1fe01f" stroke-width="1.8" stroke-linecap="round"/><path d="M741.2,292.2 L736.3,294.8 L736.1,290.2Z" fill="#1fe01f"/>
<path d="M706.0,310.3 Q691.3,312.8 686.3,309.3" fill="none" stroke="#1fe01f" stroke-width="1.8" stroke-linecap="round"/><path d="M682.1,306.5 L687.6,307.4 L685.0,311.2Z" fill="#1fe01f"/>
<path d="M706.0,310.3 Q709.9,312.3 708.4,308.1" fill="none" stroke="#1fe01f" stroke-width="1.8" stroke-linecap="round"/><path d="M710.1,312.8 L706.3,308.9 L710.6,307.3Z" fill="#1fe01f"/>
<path d="M706.0,310.3 Q703.6,320.2 702.4,320.9" fill="none" stroke="#1fe01f" stroke-width="1.8" stroke-linecap="round"/><path d="M698.2,323.6 L701.2,318.9 L703.7,322.8Z" fill="#1fe01f"/>
<path d="M706.0,310.3 Q698.4,323.8 692.0,325.8" fill="none" stroke="#1fe01f" stroke-width="1.8" stroke-linecap="round"/><path d="M687.2,327.3 L691.3,323.6 L692.7,328.0Z" fill="#1fe01f"/>
<path d="M706.0,310.3 Q713.6,322.0 712.6,327.0" fill="none" stroke="#1fe01f" stroke-width="1.8" stroke-linecap="round"/><path d="M711.7,331.9 L710.4,326.5 L714.9,327.4Z" fill="#1fe01f"/>
<path d="M706.0,310.3 Q706.6,333.5 696.9,344.1" fill="none" stroke="#1fe01f" stroke-width="1.8" stroke-linecap="round"/><path d="M693.6,347.8 L695.2,342.5 L698.6,345.6Z" fill="#1fe01f"/>
<path d="M706.0,310.3 Q692.7,341.3 669.7,351.1" fill="none" stroke="#1fe01f" stroke-width="1.8" stroke-linecap="round"/><path d="M665.1,353.1 L668.8,349.0 L670.6,353.3Z" fill="#1fe01f"/>
<path d="M706.0,310.3 Q678.3,328.1 654.6,323.6" fill="none" stroke="#1fe01f" stroke-width="1.8" stroke-linecap="round"/><path d="M649.7,322.7 L655.1,321.4 L654.2,325.9Z" fill="#1fe01f"/>
<path d="M706.0,310.3 Q666.6,340.0 626.3,335.4" fill="none" stroke="#1fe01f" stroke-width="1.8" stroke-linecap="round"/><path d="M621.4,334.8 L626.6,333.1 L626.1,337.7Z" fill="#1fe01f"/>
<path d="M706.0,310.3 Q673.7,340.2 638.4,339.7" fill="none" stroke="#1fe01f" stroke-width="1.8" stroke-linecap="round"/><path d="M633.4,339.7 L638.4,337.4 L638.4,342.0Z" fill="#1fe01f"/>
<path d="M706.0,310.3 Q722.9,339.6 717.1,363.8" fill="none" stroke="#1fe01f" stroke-width="1.8" stroke-linecap="round"/><path d="M715.9,368.7 L714.8,363.3 L719.3,364.4Z" fill="#1fe01f"/>
<path d="M690.0,441.0 Q647.6,423.4 632.6,389.4" fill="none" stroke="#ee1f24" stroke-width="1.8" stroke-linecap="round"/><path d="M630.5,384.9 L634.7,388.5 L630.5,390.4Z" fill="#ee1f24"/>
<path d="M690.0,441.0 Q657.5,424.9 648.0,399.1" fill="none" stroke="#ee1f24" stroke-width="1.8" stroke-linecap="round"/><path d="M646.3,394.4 L650.2,398.3 L645.9,399.9Z" fill="#ee1f24"/>
<path d="M690.0,441.0 Q681.5,411.1 691.9,391.3" fill="none" stroke="#ee1f24" stroke-width="1.8" stroke-linecap="round"/><path d="M694.2,386.9 L693.9,392.4 L689.9,390.2Z" fill="#ee1f24"/>
<path d="M690.0,441.0 Q680.9,421.8 684.8,410.0" fill="none" stroke="#ee1f24" stroke-width="1.8" stroke-linecap="round"/><path d="M686.4,405.2 L687.0,410.7 L682.7,409.2Z" fill="#ee1f24"/>
<path d="M690.0,441.0 Q689.8,415.8 701.0,403.8" fill="none" stroke="#ee1f24" stroke-width="1.8" stroke-linecap="round"/><path d="M704.4,400.2 L702.7,405.4 L699.3,402.3Z" fill="#ee1f24"/>
<path d="M690.0,441.0 Q662.1,436.5 650.3,421.0" fill="none" stroke="#ee1f24" stroke-width="1.8" stroke-linecap="round"/><path d="M647.3,417.0 L652.2,419.6 L648.5,422.4Z" fill="#ee1f24"/>
<path d="M690.0,441.0 Q650.4,447.2 624.6,429.4" fill="none" stroke="#ee1f24" stroke-width="1.8" stroke-linecap="round"/><path d="M620.5,426.6 L625.9,427.5 L623.3,431.3Z" fill="#ee1f24"/>
<path d="M690.0,441.0 Q673.1,448.9 663.7,445.8" fill="none" stroke="#ee1f24" stroke-width="1.8" stroke-linecap="round"/><path d="M659.0,444.2 L664.5,443.6 L663.0,448.0Z" fill="#ee1f24"/>
<path d="M690.0,441.0 Q684.6,456.9 677.5,460.5" fill="none" stroke="#ee1f24" stroke-width="1.8" stroke-linecap="round"/><path d="M673.1,462.8 L676.4,458.5 L678.6,462.6Z" fill="#ee1f24"/>
<path d="M742.0,376.4 Q731.1,377.3 729.4,375.9" fill="none" stroke="#35b3ee" stroke-width="2.0" stroke-linecap="round"/><path d="M725.6,372.8 L730.9,374.1 L728.0,377.7Z" fill="#35b3ee"/>
<path d="M742.0,376.4 Q739.9,381.4 743.0,380.0" fill="none" stroke="#35b3ee" stroke-width="2.0" stroke-linecap="round"/><path d="M738.5,382.1 L742.1,377.9 L744.0,382.1Z" fill="#35b3ee"/>
<g fill="#1fe01f" stroke="#222" stroke-width="0.55"><circle cx="546" cy="263" r="3.5"/><circle cx="542" cy="376" r="3.5"/><circle cx="757.4" cy="258" r="3.5"/><circle cx="753" cy="274" r="3.5"/><circle cx="745" cy="292" r="3.5"/><circle cx="679" cy="304.4" r="3.5"/><circle cx="711.4" cy="316.4" r="3.5"/><circle cx="695" cy="325.6" r="3.5"/><circle cx="683.6" cy="328.4" r="3.5"/><circle cx="711" cy="335.6" r="3.5"/><circle cx="691" cy="350.6" r="3.5"/><circle cx="661.6" cy="354.6" r="3.5"/><circle cx="646" cy="322" r="3.5"/><circle cx="617.6" cy="334.4" r="3.5"/><circle cx="629.6" cy="339.6" r="3.5"/><circle cx="715" cy="372.4" r="3.5"/></g>
<g fill="#ee1f24" stroke="#222" stroke-width="0.55"><circle cx="629" cy="381.4" r="3.5"/><circle cx="645" cy="390.8" r="3.5"/><circle cx="696" cy="383.5" r="3.5"/><circle cx="687.6" cy="401.6" r="3.5"/><circle cx="707" cy="397.4" r="3.5"/><circle cx="645" cy="414" r="3.5"/><circle cx="617.4" cy="424.4" r="3.5"/><circle cx="655.4" cy="443" r="3.5"/><circle cx="669.7" cy="464.6" r="3.5"/></g>
<g fill="#35b3ee" stroke="#222" stroke-width="0.55"><circle cx="722.6" cy="370.4" r="3.5"/><circle cx="735" cy="383.6" r="3.5"/></g>
<polygon points="706.00,305.10 707.28,308.53 710.95,308.69 708.08,310.97 709.06,314.51 706.00,312.48 702.94,314.51 703.92,310.97 701.05,308.69 704.72,308.53" fill="#48e048" stroke="#111" stroke-width="0.9"/>
<polygon points="690.00,435.80 691.28,439.23 694.95,439.39 692.08,441.67 693.06,445.21 690.00,443.18 686.94,445.21 687.92,441.67 685.05,439.39 688.72,439.23" fill="#ee1f24" stroke="#111" stroke-width="0.9"/>
<polygon points="742.00,371.20 743.28,374.63 746.95,374.79 744.08,377.07 745.06,380.61 742.00,378.58 738.94,380.61 739.92,377.07 737.05,374.79 740.72,374.63" fill="#35b3ee" stroke="#111" stroke-width="0.9"/>
<polygon points="731.40,410.80 732.68,414.23 736.35,414.39 733.48,416.67 734.46,420.21 731.40,418.18 728.34,420.21 729.32,416.67 726.45,414.39 730.12,414.23" fill="#c4d422" stroke="#111" stroke-width="0.9"/>
<path d="M683.5,76.9Q723.4,66.5 750.4,97.6M683.5,76.9Q725.0,82.9 758.4,108.2M683.5,76.9Q722.6,83.6 752.7,109.6M683.5,76.9Q714.6,84.9 725.5,115.2M683.5,76.9Q731.7,93.8 758.9,137.1M683.5,76.9Q734.6,97.7 764.5,144.0M683.5,76.9Q743.8,98.3 719.4,157.5M683.5,76.9Q786.9,45.8 776.7,153.3M683.5,76.9Q745.5,108.2 745.7,177.5M683.5,76.9Q771.6,70.8 745.9,155.3M683.5,76.9Q732.7,82.4 752.4,127.8M681.5,133.3Q721.4,112.4 766.5,113.2M681.5,133.3Q730.9,113.2 778.6,137.1M681.5,133.3Q704.4,118.0 725.2,136.0M681.5,133.3Q717.0,138.1 738.5,166.8M681.5,133.3Q702.0,93.9 735.8,122.8M789.8,74.4Q737.9,126.8 683.5,76.9M789.8,74.4Q799.1,87.5 783.6,91.4M789.8,74.4Q791.4,101.8 764.0,100.5M789.8,74.4Q788.2,104.4 758.4,108.2M789.8,74.4Q795.2,128.0 741.6,122.6M789.8,74.4Q775.7,123.2 725.5,115.2M789.8,74.4Q800.6,105.9 782.1,133.5M789.8,74.4Q798.2,147.8 725.2,136.0M789.8,74.4Q791.7,119.8 754.7,146.1M789.8,74.4Q790.1,96.5 778.6,115.4M789.8,74.4Q782.1,114.8 746.9,135.8M789.8,74.4Q797.2,124.8 753.4,150.8M789.8,74.4Q802.9,146.7 730.8,160.3M789.8,74.4Q786.1,137.7 723.2,145.3M787.6,82.4Q786.1,105.0 764.0,100.5M787.6,82.4Q781.8,97.6 766.7,103.6M787.6,82.4Q809.7,114.2 778.6,137.1M787.6,82.4Q810.0,126.0 764.5,144.0M787.6,82.4Q804.1,136.4 755.9,165.8M787.6,82.4Q794.5,119.8 776.7,153.3M787.6,82.4Q815.6,146.9 745.9,155.3M787.6,82.4Q769.2,100.9 743.3,96.9M787.6,82.4Q788.1,147.3 723.2,145.3M783.6,91.4Q724.8,144.4 683.5,76.9M783.6,91.4Q787.7,113.8 772.3,130.5M783.6,91.4Q805.2,116.9 778.6,137.1M783.6,91.4Q783.0,120.6 758.9,137.1M783.6,91.4Q789.7,123.4 764.5,144.0M783.6,91.4Q803.8,140.2 759.4,168.8M783.6,91.4Q793.8,119.6 780.1,146.3M783.6,91.4Q792.1,135.8 746.9,135.8M783.6,91.4Q783.2,134.3 745.9,155.3M783.6,91.4Q794.7,102.2 781.6,110.4M783.6,91.4Q788.1,141.2 741.8,160.3M783.6,91.4Q769.4,131.7 726.7,131.3M783.6,91.4Q786.8,145.2 735.8,127.8M783.6,91.4Q791.7,141.7 740.8,145.3M783.6,91.4Q783.1,123.3 761.0,146.3M750.4,97.6Q760.8,94.5 766.7,103.6M750.4,97.6Q761.7,107.0 756.4,120.7M750.4,97.6Q784.9,98.4 772.3,130.5M750.4,97.6Q783.6,100.2 782.1,133.5M750.4,97.6Q766.0,135.3 725.2,136.0M750.4,97.6Q779.3,136.7 733.3,152.3M750.4,97.6Q754.1,133.8 738.5,166.8M750.4,97.6Q766.4,91.5 781.1,100.4M750.4,97.6Q786.8,129.1 759.4,168.8M750.4,97.6Q791.7,105.8 780.1,146.3M750.4,97.6Q757.4,112.3 752.4,127.8M764.0,100.5Q739.7,159.7 681.5,133.3M764.0,100.5Q772.4,87.1 787.6,82.4M764.0,100.5Q763.2,105.8 758.4,108.2M764.0,100.5Q760.4,107.7 752.7,109.6M764.0,100.5Q758.6,117.5 741.6,122.6M764.0,100.5Q750.6,139.4 719.5,112.6M764.0,100.5Q786.3,112.8 778.6,137.1M764.0,100.5Q781.0,121.5 758.9,137.1M764.0,100.5Q780.3,145.2 733.3,152.3M764.0,100.5Q764.3,146.7 719.4,157.5M764.0,100.5Q791.6,137.1 755.9,165.8M764.0,100.5Q777.7,101.6 778.6,115.4M764.0,100.5Q809.3,124.8 772.0,160.3M764.0,100.5Q786.0,113.7 783.6,139.3M764.0,100.5Q779.0,109.3 767.0,121.8M764.0,100.5Q768.8,124.7 746.9,135.8M764.0,100.5Q783.9,143.5 745.9,171.7M764.0,100.5Q773.7,120.2 764.0,139.8M764.0,100.5Q766.0,124.5 748.9,141.3M764.0,100.5Q775.4,151.9 723.2,145.3M766.7,103.6Q716.5,117.1 683.5,76.9M766.7,103.6Q744.2,176.0 681.5,133.3M766.7,103.6Q770.7,91.3 783.6,91.4M766.7,103.6Q757.2,104.1 750.4,97.6M766.7,103.6Q764.4,102.9 764.0,100.5M766.7,103.6Q763.1,114.6 752.7,109.6M766.7,103.6Q772.0,108.5 766.5,113.2M766.7,103.6Q760.6,121.6 741.6,122.6M766.7,103.6Q789.9,110.6 782.1,133.5M766.7,103.6Q760.0,137.8 725.2,136.0M766.7,103.6Q768.8,121.7 758.9,137.1M766.7,103.6Q781.4,130.7 754.7,146.1M766.7,103.6Q766.3,151.0 719.4,157.5M766.7,103.6Q798.6,123.0 776.7,153.3M766.7,103.6Q764.6,124.5 746.9,135.8M766.7,103.6Q773.0,125.5 750.9,131.3M766.7,103.6Q755.2,120.8 735.8,127.8M766.7,103.6Q777.5,109.5 774.0,121.3M758.4,108.2Q755.5,73.9 789.8,74.4M758.4,108.2Q759.9,101.2 766.7,103.6M758.4,108.2Q756.0,110.6 752.7,109.6M758.4,108.2Q764.1,108.0 766.5,113.2M758.4,108.2Q781.2,109.5 772.3,130.5M758.4,108.2Q778.5,113.2 782.1,133.5M758.4,108.2Q783.4,112.3 778.6,137.1M758.4,108.2Q750.8,128.3 733.3,140.7M758.4,108.2Q763.6,122.5 758.9,137.1M758.4,108.2Q761.9,151.0 719.4,157.5M758.4,108.2Q765.6,145.3 745.7,177.5M758.4,108.2Q772.5,108.9 767.0,121.8M758.4,108.2Q766.0,127.6 746.9,135.8M758.4,108.2Q759.4,111.1 757.9,113.9M758.4,108.2Q764.0,120.6 752.4,127.8M758.4,108.2Q775.3,145.0 734.8,146.8M758.4,108.2Q775.1,130.9 748.9,141.3M752.7,109.6Q762.3,101.1 766.5,113.2M752.7,109.6Q774.5,112.8 782.1,133.5M752.7,109.6Q758.9,127.5 754.7,146.1M752.7,109.6Q788.1,148.7 738.5,166.8M752.7,109.6Q788.4,118.4 776.7,153.3M752.7,109.6Q790.6,124.2 772.0,160.3M752.7,109.6Q798.3,134.4 759.4,168.8M752.7,109.6Q759.6,118.8 752.4,127.8M752.7,109.6Q769.2,140.4 734.8,146.8M752.7,109.6Q767.5,108.0 774.0,121.3M752.7,109.6Q788.9,122.1 775.0,157.8M752.7,109.6Q762.6,143.9 730.8,160.3M766.5,113.2Q711.6,125.6 683.5,76.9M766.5,113.2Q728.5,142.4 681.5,133.3M766.5,113.2Q761.3,91.5 783.6,91.4M766.5,113.2Q760.0,107.9 764.0,100.5M766.5,113.2Q764.0,120.3 756.4,120.7M766.5,113.2Q759.9,133.2 741.6,122.6M766.5,113.2Q746.9,125.4 733.8,106.4M766.5,113.2Q742.6,141.5 719.5,112.6M766.5,113.2Q746.5,124.7 725.5,115.2M766.5,113.2Q780.8,118.0 772.3,130.5M766.5,113.2Q766.8,131.9 754.7,146.1M766.5,113.2Q764.8,145.4 733.3,152.3M766.5,113.2Q773.9,168.2 719.4,157.5M766.5,113.2Q791.9,115.2 783.6,139.3M766.5,113.2Q757.5,146.1 726.7,131.3M766.5,113.2Q780.3,124.4 767.0,136.3M766.5,113.2Q798.1,130.2 775.0,157.8M756.4,120.7Q690.7,147.7 683.5,76.9M756.4,120.7Q723.9,156.4 681.5,133.3M756.4,120.7Q750.1,113.2 758.4,108.2M756.4,120.7Q758.9,113.5 766.5,113.2M756.4,120.7Q750.0,128.9 741.6,122.6M756.4,120.7Q767.2,121.1 772.3,130.5M756.4,120.7Q770.7,134.4 754.7,146.1M756.4,120.7Q767.2,143.3 755.9,165.8M756.4,120.7Q786.2,124.7 776.7,153.3M756.4,120.7Q778.6,117.5 783.6,139.3M756.4,120.7Q761.3,129.9 750.9,131.3M756.4,120.7Q769.3,137.2 753.4,150.8M756.4,120.7Q759.7,145.4 734.8,146.8M756.4,120.7Q775.0,122.6 776.0,141.3M741.6,122.6Q742.1,100.8 764.0,100.5M741.6,122.6Q747.7,112.7 758.4,108.2M741.6,122.6Q732.2,117.2 733.8,106.4M741.6,122.6Q725.6,128.4 719.5,112.6M741.6,122.6Q757.0,121.3 768.5,131.5M741.6,122.6Q769.8,105.1 778.6,137.1M741.6,122.6Q741.2,138.8 725.2,136.0M741.6,122.6Q754.0,125.4 758.9,137.1M741.6,122.6Q741.0,146.8 719.4,157.5M741.6,122.6Q767.5,138.0 755.9,165.8M741.6,122.6Q782.4,147.2 745.7,177.5M741.6,122.6Q762.5,120.0 779.6,132.3M741.6,122.6Q747.7,127.9 746.9,135.8M741.6,122.6Q744.7,108.7 757.9,113.9M741.6,122.6Q751.2,135.2 753.4,150.8M741.6,122.6Q752.8,112.9 761.0,125.3M741.6,122.6Q749.1,104.6 763.5,117.9M741.6,122.6Q752.5,146.2 730.8,160.3M741.6,122.6Q761.5,126.1 761.0,146.3M733.8,106.4Q718.4,140.7 681.5,133.3M733.8,106.4Q745.3,59.8 787.6,82.4M733.8,106.4Q748.4,64.6 783.6,91.4M733.8,106.4Q754.5,88.5 766.5,113.2M733.8,106.4Q775.1,89.4 782.1,133.5M733.8,106.4Q769.8,101.9 778.6,137.1M733.8,106.4Q762.9,108.1 758.9,137.1M733.8,106.4Q770.1,108.1 764.5,144.0M733.8,106.4Q760.7,141.5 719.4,157.5M733.8,106.4Q783.2,131.1 745.9,171.7M733.8,106.4Q758.3,101.1 781.6,110.4M733.8,106.4Q757.1,105.2 774.0,121.3M733.8,106.4Q750.5,107.2 763.5,117.9M733.8,106.4Q753.5,122.1 761.0,146.3M719.5,112.6Q740.3,93.4 766.7,103.6M719.5,112.6Q722.8,100.6 733.8,106.4M719.5,112.6Q769.9,117.1 755.9,165.8M719.5,112.6Q757.4,135.0 745.7,177.5M719.5,112.6Q748.3,121.2 753.4,150.8M725.5,115.2Q716.7,156.3 681.5,133.3M725.5,115.2Q742.1,95.2 766.7,103.6M725.5,115.2Q737.2,102.9 752.7,109.6M725.5,115.2Q744.0,100.7 756.4,120.7M725.5,115.2Q749.4,117.0 768.5,131.5M725.5,115.2Q757.2,113.9 782.1,133.5M725.5,115.2Q758.5,110.7 778.6,137.1M725.5,115.2Q734.0,125.7 725.2,136.0M725.5,115.2Q748.9,116.0 758.9,137.1M725.5,115.2Q763.8,104.2 764.5,144.0M725.5,115.2Q762.7,123.3 772.0,160.3M725.5,115.2Q737.3,102.0 754.9,101.4M725.5,115.2Q735.3,112.8 735.8,122.8M725.5,115.2Q748.2,122.0 764.0,139.8M768.5,131.5Q687.9,163.6 683.5,76.9M768.5,131.5Q725.4,153.1 681.5,133.3M768.5,131.5Q741.9,89.1 789.8,74.4M768.5,131.5Q748.5,118.6 764.0,100.5M768.5,131.5Q755.6,118.3 766.7,103.6M768.5,131.5Q740.2,134.1 733.8,106.4M768.5,131.5Q770.2,130.1 772.3,130.5M768.5,131.5Q775.8,129.3 782.1,133.5M768.5,131.5Q756.8,158.7 733.3,140.7M768.5,131.5Q767.4,140.7 758.9,137.1M768.5,131.5Q755.9,150.4 733.3,152.3M768.5,131.5Q749.8,155.6 719.4,157.5M768.5,131.5Q770.3,163.5 738.5,166.8M768.5,131.5Q779.8,139.7 776.7,153.3M768.5,131.5Q763.5,111.4 781.1,100.4M768.5,131.5Q775.1,152.9 759.4,168.8M768.5,131.5Q743.0,123.6 743.3,96.9M768.5,131.5Q747.6,145.1 726.7,131.3M768.5,131.5Q767.8,128.0 771.0,126.3M772.3,130.5Q713.7,127.2 683.5,76.9M772.3,130.5Q727.3,146.5 681.5,133.3M772.3,130.5Q756.7,104.9 783.6,91.4M772.3,130.5Q758.4,135.3 756.4,120.7M772.3,130.5Q742.9,134.6 733.8,106.4M772.3,130.5Q777.8,130.0 782.1,133.5M772.3,130.5Q751.0,152.4 725.2,136.0M772.3,130.5Q764.7,162.8 733.3,152.3M772.3,130.5Q788.1,159.3 755.9,165.8M772.3,130.5Q767.2,119.5 778.6,115.4M772.3,130.5Q784.0,149.2 767.0,163.3M772.3,130.5Q775.8,152.8 753.4,150.8M782.1,133.5Q716.9,132.9 683.5,76.9M782.1,133.5Q731.6,201.1 681.5,133.3M782.1,133.5Q771.4,102.1 789.8,74.4M782.1,133.5Q758.4,111.6 783.6,91.4M782.1,133.5Q767.2,122.3 766.7,103.6M782.1,133.5Q754.6,135.5 758.4,108.2M782.1,133.5Q757.7,133.5 752.7,109.6M782.1,133.5Q771.4,125.6 766.5,113.2M782.1,133.5Q759.8,145.9 756.4,120.7M782.1,133.5Q742.3,159.9 725.5,115.2M782.1,133.5Q776.7,133.8 772.3,130.5M782.1,133.5Q783.0,137.9 778.6,137.1M782.1,133.5Q774.1,152.2 754.7,146.1M782.1,133.5Q784.3,162.1 755.9,165.8M782.1,133.5Q793.7,180.1 745.7,177.5M782.1,133.5Q788.0,151.0 772.0,160.3M782.1,133.5Q778.0,155.8 759.4,168.8M782.1,133.5Q764.1,133.5 750.9,121.3M782.1,133.5Q766.3,135.7 752.4,127.8M782.1,133.5Q760.9,149.0 734.8,146.8M782.1,133.5Q761.1,139.5 763.5,117.9M782.1,133.5Q774.3,133.4 771.0,126.3M778.6,137.1Q729.0,161.9 681.5,133.3M778.6,137.1Q767.7,102.8 789.8,74.4M778.6,137.1Q762.3,106.3 787.6,82.4M778.6,137.1Q766.5,120.7 764.0,100.5M778.6,137.1Q768.9,127.0 766.5,113.2M778.6,137.1Q764.3,133.1 756.4,120.7M778.6,137.1Q735.5,151.9 733.8,106.4M778.6,137.1Q772.5,136.2 768.5,131.5M778.6,137.1Q751.2,168.2 725.2,136.0M778.6,137.1Q761.1,182.4 719.4,157.5M778.6,137.1Q787.8,167.7 755.9,165.8M778.6,137.1Q787.3,146.3 776.7,153.3M778.6,137.1Q772.9,126.2 778.6,115.4M778.6,137.1Q788.4,152.4 772.0,160.3M778.6,137.1Q775.3,123.2 781.6,110.4M778.6,137.1Q767.9,134.0 761.0,125.3M778.6,137.1Q770.6,181.5 730.8,160.3M725.2,136.0Q693.2,114.3 683.5,76.9M725.2,136.0Q741.3,88.3 789.8,74.4M725.2,136.0Q724.3,92.2 766.7,103.6M725.2,136.0Q738.2,110.8 766.5,113.2M725.2,136.0Q731.6,134.3 733.3,140.7M725.2,136.0Q742.5,124.8 758.9,137.1M725.2,136.0Q737.0,150.7 719.4,157.5M725.2,136.0Q754.8,141.5 738.5,166.8M725.2,136.0Q749.9,141.3 755.9,165.8M725.2,136.0Q766.0,141.7 745.7,177.5M725.2,136.0Q755.5,117.8 783.6,139.3M725.2,136.0Q752.5,128.4 761.5,155.3M725.2,136.0Q749.6,130.6 745.9,155.3M725.2,136.0Q760.9,127.0 767.0,163.3M725.2,136.0Q734.8,118.7 752.4,127.8M725.2,136.0Q735.4,119.0 750.9,131.3M725.2,136.0Q723.3,132.8 726.7,131.3M725.2,136.0Q740.7,122.7 761.0,125.3M725.2,136.0Q738.2,133.6 748.9,141.3M725.2,136.0Q744.5,136.2 761.0,146.3M733.3,140.7Q672.5,136.8 683.5,76.9M733.3,140.7Q733.5,119.2 752.7,109.6M733.3,140.7Q731.2,128.8 741.6,122.6M733.3,140.7Q746.7,120.0 768.5,131.5M733.3,140.7Q753.6,110.0 778.6,137.1M733.3,140.7Q736.1,146.5 733.3,152.3M733.3,140.7Q749.1,111.0 781.1,100.4M733.3,140.7Q761.1,141.0 759.4,168.8M733.3,140.7Q753.8,122.1 779.6,132.3M733.3,140.7Q737.6,108.8 767.0,121.8M733.3,140.7Q736.7,125.1 752.4,127.8M733.3,140.7Q726.2,138.7 726.7,131.3M733.3,140.7Q758.4,139.0 775.0,157.8M733.3,140.7Q737.7,142.0 740.8,145.3M758.9,137.1Q717.7,186.9 681.5,133.3M758.9,137.1Q733.9,89.1 787.6,82.4M758.9,137.1Q747.2,101.2 783.6,91.4M758.9,137.1Q748.9,118.6 750.4,97.6M758.9,137.1Q754.8,117.9 764.0,100.5M758.9,137.1Q742.9,115.7 766.7,103.6M758.9,137.1Q734.4,138.1 725.5,115.2M758.9,137.1Q770.0,132.1 782.1,133.5M758.9,137.1Q743.2,155.1 719.4,157.5M758.9,137.1Q769.1,152.6 755.9,165.8M758.9,137.1Q772.1,140.5 776.7,153.3M758.9,137.1Q770.5,163.3 745.7,177.5M758.9,137.1Q762.2,146.4 753.4,150.8M758.9,137.1Q763.6,158.4 741.8,160.3M758.9,137.1Q744.2,140.4 735.8,127.8M758.9,137.1Q759.3,122.3 774.0,121.3M758.9,137.1Q753.8,130.1 761.0,125.3M758.9,137.1Q756.1,126.3 763.5,117.9M754.7,146.1Q724.8,87.0 789.8,74.4M754.7,146.1Q730.8,144.1 741.6,122.6M754.7,146.1Q719.0,139.5 733.8,106.4M754.7,146.1Q729.4,137.5 719.5,112.6M754.7,146.1Q758.3,135.7 768.5,131.5M754.7,146.1Q758.6,132.7 772.3,130.5M754.7,146.1Q745.0,176.6 719.4,157.5M754.7,146.1Q768.9,140.0 776.7,153.3M754.7,146.1Q768.2,138.6 783.6,139.3M754.7,146.1Q756.6,135.9 767.0,136.3M754.7,146.1Q750.5,145.3 748.9,141.3M754.7,146.1Q757.9,144.7 761.0,146.3M764.5,144.0Q742.2,130.9 733.8,106.4M764.5,144.0Q726.1,151.0 719.5,112.6M764.5,144.0Q764.2,134.8 772.3,130.5M764.5,144.0Q741.6,155.8 725.2,136.0M764.5,144.0Q774.2,160.4 755.9,165.8M764.5,144.0Q765.0,166.3 745.7,177.5M764.5,144.0Q773.1,139.6 780.1,146.3M764.5,144.0Q759.5,132.2 767.0,121.8M764.5,144.0Q755.8,136.0 761.0,125.3M733.3,152.3Q663.5,144.2 683.5,76.9M733.3,152.3Q712.3,115.7 750.4,97.6M733.3,152.3Q723.9,133.7 741.6,122.6M733.3,152.3Q713.4,136.9 719.5,112.6M733.3,152.3Q754.8,135.5 782.1,133.5M733.3,152.3Q724.4,146.6 725.2,136.0M733.3,152.3Q728.1,146.5 733.3,140.7M733.3,152.3Q743.4,140.1 758.9,137.1M733.3,152.3Q742.7,144.7 754.7,146.1M733.3,152.3Q743.8,129.0 764.5,144.0M733.3,152.3Q745.1,156.2 738.5,166.8M733.3,152.3Q749.9,150.1 755.9,165.8M733.3,152.3Q750.6,115.6 783.6,139.3M733.3,152.3Q745.3,131.7 767.0,121.8M733.3,152.3Q739.5,144.5 748.9,141.3M719.4,157.5Q696.5,151.6 681.5,133.3M719.4,157.5Q712.6,86.6 783.6,91.4M719.4,157.5Q721.7,119.2 758.4,108.2M719.4,157.5Q729.1,128.7 752.7,109.6M719.4,157.5Q697.4,132.7 725.5,115.2M719.4,157.5Q739.9,132.3 772.3,130.5M719.4,157.5Q735.6,140.4 758.9,137.1M719.4,157.5Q741.0,147.0 755.9,165.8M719.4,157.5Q728.0,106.9 778.6,115.4M719.4,157.5Q731.7,145.7 745.9,155.3M719.4,157.5Q745.9,137.9 767.0,163.3M719.4,157.5Q718.2,122.0 743.3,96.9M719.4,157.5Q717.1,116.6 757.9,113.9M719.4,157.5Q721.4,144.0 734.8,146.8M719.4,157.5Q720.1,99.1 774.0,121.3M719.4,157.5Q734.3,130.0 764.0,139.8M719.4,157.5Q745.0,139.8 776.0,141.3M719.4,157.5Q727.6,146.9 740.8,145.3M719.4,157.5Q714.0,149.1 723.2,145.3M719.4,157.5Q734.6,131.3 761.0,146.3M738.5,166.8Q692.3,133.3 683.5,76.9M738.5,166.8Q731.9,111.7 783.6,91.4M738.5,166.8Q726.8,123.7 766.7,103.6M738.5,166.8Q733.8,135.2 752.7,109.6M738.5,166.8Q725.0,135.0 756.4,120.7M738.5,166.8Q696.9,139.6 733.8,106.4M738.5,166.8Q712.6,145.4 719.5,112.6M738.5,166.8Q696.2,150.0 725.5,115.2M738.5,166.8Q752.6,140.0 782.1,133.5M738.5,166.8Q723.9,154.8 725.2,136.0M738.5,166.8Q732.3,154.5 733.3,140.7M738.5,166.8Q731.3,161.2 733.3,152.3M738.5,166.8Q754.0,149.7 776.7,153.3M738.5,166.8Q753.5,154.4 772.0,160.3M738.5,166.8Q730.8,148.1 746.9,135.8M738.5,166.8Q725.2,146.5 748.9,141.3M738.5,166.8Q739.2,145.0 761.0,146.3M755.9,165.8Q712.7,163.2 681.5,133.3M755.9,165.8Q729.1,103.8 789.8,74.4M755.9,165.8Q757.2,118.6 787.6,82.4M755.9,165.8Q719.6,127.5 766.7,103.6M755.9,165.8Q752.2,137.6 766.5,113.2M755.9,165.8Q738.5,147.6 741.6,122.6M755.9,165.8Q753.8,145.6 768.5,131.5M755.9,165.8Q763.3,145.0 782.1,133.5M755.9,165.8Q733.8,157.9 725.2,136.0M755.9,165.8Q737.8,170.5 733.3,152.3M755.9,165.8Q743.4,129.9 778.6,115.4M755.9,165.8Q762.4,158.4 772.0,160.3M755.9,165.8Q757.7,140.0 783.6,139.3M755.9,165.8Q727.4,146.5 750.9,121.3M755.9,165.8Q760.4,160.0 767.0,163.3M755.9,165.8Q744.6,139.3 757.9,113.9M755.9,165.8Q747.0,167.8 741.8,160.3M755.9,165.8Q739.3,163.1 734.8,146.8M755.9,165.8Q727.7,160.1 726.7,131.3M755.9,165.8Q747.9,149.1 764.0,139.8M755.9,165.8Q735.0,158.5 748.9,141.3M776.7,153.3Q718.7,129.1 683.5,76.9M776.7,153.3Q761.9,114.8 787.6,82.4M776.7,153.3Q769.1,121.1 783.6,91.4M776.7,153.3Q751.5,131.5 764.0,100.5M776.7,153.3Q747.8,139.3 766.5,113.2M776.7,153.3Q740.0,177.3 725.2,136.0M776.7,153.3Q760.1,153.7 758.9,137.1M776.7,153.3Q765.4,182.0 738.5,166.8M776.7,153.3Q770.3,141.7 779.6,132.3M776.7,153.3Q749.2,149.2 750.9,121.3M776.7,153.3Q769.4,156.6 761.5,155.3M776.7,153.3Q774.5,160.9 767.0,163.3M776.7,153.3Q759.0,129.6 781.6,110.4M745.7,177.5Q639.2,173.9 683.5,76.9M745.7,177.5Q723.8,136.1 750.4,97.6M745.7,177.5Q741.9,136.5 766.7,103.6M745.7,177.5Q719.4,151.9 741.6,122.6M745.7,177.5Q720.1,150.1 719.5,112.6M745.7,177.5Q751.1,149.5 772.3,130.5M745.7,177.5Q743.7,154.5 758.9,137.1M745.7,177.5Q716.8,134.6 767.0,121.8M745.7,177.5Q730.2,147.8 750.9,121.3M745.7,177.5Q739.1,166.4 745.9,155.3M745.7,177.5Q746.7,136.0 769.0,100.9M745.7,177.5Q723.6,151.7 750.9,131.3M745.7,177.5Q723.0,168.3 734.8,146.8M745.7,177.5Q721.7,130.2 774.0,121.3M745.7,177.5Q747.6,148.6 775.0,157.8M745.7,177.5Q752.8,152.7 776.0,141.3M745.7,177.5Q746.3,149.4 761.0,125.3M778.6,115.4Q775.7,92.6 789.8,74.4M778.6,115.4Q774.5,107.0 781.1,100.4M778.6,115.4Q800.6,146.0 767.0,163.3M778.6,115.4Q783.4,138.6 761.0,146.3M781.1,100.4Q758.8,149.4 719.5,112.6M781.1,100.4Q760.8,136.0 725.5,115.2M781.1,100.4Q779.7,137.4 755.9,165.8M781.1,100.4Q761.2,109.3 743.3,96.9M781.1,100.4Q782.9,134.2 753.4,150.8M781.1,100.4Q788.7,124.1 767.0,136.3M781.1,100.4Q782.0,152.2 730.8,160.3M772.0,160.3Q757.8,112.6 789.8,74.4M772.0,160.3Q744.8,139.6 766.5,113.2M772.0,160.3Q764.9,146.6 768.5,131.5M772.0,160.3Q747.5,160.7 733.3,140.7M772.0,160.3Q756.9,127.4 781.1,100.4M772.0,160.3Q772.1,145.3 779.6,132.3M772.0,160.3Q731.5,169.1 735.8,127.8M759.4,168.8Q704.6,154.8 733.8,106.4M759.4,168.8Q725.3,150.7 719.5,112.6M759.4,168.8Q747.1,146.0 768.5,131.5M759.4,168.8Q757.3,145.9 778.6,137.1M759.4,168.8Q741.0,160.8 754.7,146.1M759.4,168.8Q748.4,173.5 738.5,166.8M759.4,168.8Q757.2,180.4 745.7,177.5M759.4,168.8Q744.2,136.6 779.6,132.3M759.4,168.8Q729.7,149.6 750.9,121.3M759.4,168.8Q762.1,136.4 781.6,110.4M759.4,168.8Q718.0,142.4 757.9,113.9M759.4,168.8Q752.8,161.0 753.4,150.8M783.6,139.3Q747.8,108.2 787.6,82.4M783.6,139.3Q743.7,153.3 725.5,115.2M783.6,139.3Q780.2,140.3 778.6,137.1M783.6,139.3Q757.6,147.8 750.9,121.3M783.6,139.3Q769.3,125.8 781.6,110.4M783.6,139.3Q764.1,156.1 740.8,145.3M780.1,146.3Q764.8,146.3 768.5,131.5M780.1,146.3Q777.1,139.3 782.1,133.5M780.1,146.3Q767.4,149.8 754.7,146.1M780.1,146.3Q771.7,148.7 764.5,144.0M780.1,146.3Q760.6,180.0 733.3,152.3M780.1,146.3Q776.5,166.5 755.9,165.8M780.1,146.3Q778.0,179.2 745.9,171.7M780.1,146.3Q768.9,161.5 753.4,150.8M780.1,146.3Q745.8,166.0 726.7,131.3M780.1,146.3Q770.6,146.5 764.0,139.8M780.1,146.3Q763.3,142.4 761.0,125.3M780.1,146.3Q759.9,169.2 740.8,145.3M779.6,132.3Q767.4,104.8 787.6,82.4M779.6,132.3Q748.6,127.8 764.0,100.5M779.6,132.3Q741.8,157.4 725.5,115.2M779.6,132.3Q753.7,153.0 725.2,136.0M779.6,132.3Q782.4,148.1 772.0,160.3M779.6,132.3Q775.8,148.0 761.5,155.3M779.6,132.3Q745.5,130.9 743.3,96.9M779.6,132.3Q750.1,130.5 754.9,101.4M779.6,132.3Q764.8,143.2 750.9,131.3M779.6,132.3Q753.2,148.4 735.8,122.8M767.0,121.8Q725.8,138.9 681.5,133.3M767.0,121.8Q758.8,97.6 783.6,91.4M767.0,121.8Q742.0,121.2 750.4,97.6M767.0,121.8Q762.3,117.8 766.5,113.2M767.0,121.8Q784.2,120.8 778.6,137.1M767.0,121.8Q765.0,130.5 758.9,137.1M767.0,121.8Q790.0,142.6 767.0,163.3M767.0,121.8Q760.6,120.0 757.9,113.9M767.0,121.8Q762.8,122.0 763.5,117.9M767.0,121.8Q762.8,136.2 748.9,141.3M750.9,121.3Q758.7,92.0 787.6,82.4M750.9,121.3Q753.1,116.9 756.4,120.7M750.9,121.3Q737.8,119.0 733.8,106.4M750.9,121.3Q770.2,117.9 782.1,133.5M750.9,121.3Q746.0,134.6 733.3,140.7M750.9,121.3Q770.5,133.9 761.5,155.3M750.9,121.3Q762.5,111.6 774.0,121.3M746.9,135.8Q750.6,119.2 766.5,113.2M746.9,135.8Q736.1,139.8 725.2,136.0M746.9,135.8Q770.8,157.4 745.7,177.5M746.9,135.8Q757.0,116.7 778.6,115.4M746.9,135.8Q762.1,139.6 761.5,155.3M746.9,135.8Q746.7,122.0 757.9,113.9M746.9,135.8Q745.1,146.0 734.8,146.8M761.5,155.3Q762.0,140.8 772.3,130.5M761.5,155.3Q762.4,139.0 778.6,137.1M761.5,155.3Q745.9,167.4 733.3,152.3M761.5,155.3Q741.1,169.1 719.4,157.5M761.5,155.3Q764.2,137.2 780.1,146.3M761.5,155.3Q723.1,135.2 743.3,96.9M761.5,155.3Q740.7,119.0 781.6,110.4M761.5,155.3Q740.7,145.3 735.8,122.8M761.5,155.3Q757.5,134.5 774.0,121.3M761.5,155.3Q755.3,146.3 764.0,139.8M761.5,155.3Q762.6,139.6 771.0,126.3M745.9,155.3Q723.9,94.3 787.6,82.4M745.9,155.3Q757.5,133.6 782.1,133.5M745.9,155.3Q730.6,151.0 725.2,136.0M745.9,155.3Q749.0,139.5 764.5,144.0M745.9,155.3Q746.1,159.6 741.8,160.3M745.9,155.3Q754.8,134.1 774.0,121.3M745.9,155.3Q741.3,166.8 730.8,160.3M745.9,171.7Q722.3,149.0 741.6,122.6M745.9,171.7Q728.0,123.7 778.6,115.4M745.9,171.7Q751.2,163.7 759.4,168.8M745.9,171.7Q720.6,116.0 781.6,110.4M745.9,171.7Q749.5,145.2 776.0,141.3M745.9,171.7Q720.6,133.7 763.5,117.9M767.0,163.3Q746.1,133.6 750.4,97.6M767.0,163.3Q759.8,175.5 745.7,177.5M767.0,163.3Q739.9,176.5 734.8,146.8M767.0,163.3Q757.4,145.3 761.0,125.3M767.0,163.3Q745.6,142.2 771.0,126.3M767.0,163.3Q751.1,157.9 748.9,141.3M767.0,163.3Q746.8,186.4 730.8,160.3M743.3,96.9Q759.3,110.9 741.6,122.6M743.3,96.9Q782.7,107.5 764.5,144.0M743.3,96.9Q779.1,134.5 738.5,166.8M743.3,96.9Q753.0,122.8 726.7,131.3M743.3,96.9Q781.7,104.9 764.0,139.8M754.9,101.4Q779.9,118.2 764.5,144.0M754.9,101.4Q780.5,125.9 772.0,160.3M754.9,101.4Q772.4,112.8 779.6,132.3M754.9,101.4Q774.7,124.2 746.9,135.8M754.9,101.4Q762.0,122.9 748.9,141.3M754.9,101.4Q771.9,147.0 723.2,145.3M781.6,110.4Q762.3,113.1 750.4,97.6M781.6,110.4Q768.8,121.8 758.4,108.2M781.6,110.4Q779.5,121.6 772.3,130.5M781.6,110.4Q778.3,129.9 764.5,144.0M781.6,110.4Q788.1,140.3 761.5,155.3M781.6,110.4Q777.0,156.5 730.8,160.3M769.0,100.9Q758.1,108.3 750.4,97.6M769.0,100.9Q748.3,124.0 719.5,112.6M769.0,100.9Q798.9,112.4 778.6,137.1M769.0,100.9Q785.5,125.0 758.9,137.1M769.0,100.9Q805.0,133.6 761.5,155.3M769.0,100.9Q765.8,132.2 735.8,122.8M769.0,100.9Q787.9,118.4 776.0,141.3M769.0,100.9Q771.4,111.1 763.5,117.9M769.0,100.9Q780.6,112.8 771.0,126.3M769.0,100.9Q765.7,129.9 740.8,145.3M769.0,100.9Q785.5,153.5 730.8,160.3M757.9,113.9Q753.7,113.7 752.7,109.6M757.9,113.9Q760.9,118.1 756.4,120.7M757.9,113.9Q737.7,142.0 719.5,112.6M757.9,113.9Q766.8,113.0 767.0,121.8M757.9,113.9Q759.3,122.2 750.9,121.3M757.9,113.9Q765.4,127.0 750.9,131.3M757.9,113.9Q769.5,122.2 767.0,136.3M757.9,113.9Q761.6,114.6 763.5,117.9M757.9,113.9Q767.9,132.4 748.9,141.3M752.4,127.8Q745.4,114.9 758.4,108.2M752.4,127.8Q757.4,131.2 758.9,137.1M752.4,127.8Q769.8,135.5 776.7,153.3M752.4,127.8Q767.5,138.1 761.5,155.3M752.4,127.8Q739.7,114.8 743.3,96.9M750.9,131.3Q761.4,126.5 772.3,130.5M750.9,131.3Q773.8,136.8 772.0,160.3M750.9,131.3Q757.6,152.7 745.9,171.7M750.9,131.3Q739.6,114.6 754.9,101.4M750.9,131.3Q739.9,104.2 769.0,100.9M750.9,131.3Q749.8,128.8 752.4,127.8M750.9,131.3Q766.3,131.8 761.0,146.3M753.4,150.8Q741.1,98.0 789.8,74.4M753.4,150.8Q713.7,126.4 750.4,97.6M753.4,150.8Q732.2,133.6 733.8,106.4M753.4,150.8Q733.5,154.5 725.2,136.0M753.4,150.8Q761.3,157.2 755.9,165.8M753.4,150.8Q747.2,119.8 778.6,115.4M753.4,150.8Q764.0,133.3 783.6,139.3M753.4,150.8Q738.8,137.2 750.9,121.3M753.4,150.8Q759.3,149.6 761.5,155.3M753.4,150.8Q744.0,120.5 769.0,100.9M753.4,150.8Q753.9,129.2 774.0,121.3M753.4,150.8Q761.8,139.1 776.0,141.3M741.8,160.3Q752.3,132.4 782.1,133.5M741.8,160.3Q741.7,142.3 758.9,137.1M741.8,160.3Q730.3,145.2 746.9,135.8M741.8,160.3Q741.4,137.6 764.0,139.8M734.8,146.8Q749.3,104.9 787.6,82.4M734.8,146.8Q707.9,137.5 725.5,115.2M734.8,146.8Q735.7,150.0 733.3,152.3M734.8,146.8Q745.2,149.9 741.8,160.3M726.7,131.3Q726.1,68.2 787.6,82.4M726.7,131.3Q729.9,97.2 764.0,100.5M726.7,131.3Q731.7,122.7 741.6,122.6M726.7,131.3Q756.3,101.5 778.6,137.1M726.7,131.3Q747.2,126.4 754.7,146.1M726.7,131.3Q741.0,133.7 734.8,146.8M726.7,131.3Q746.5,130.6 764.0,139.8M735.8,122.8Q712.5,148.2 681.5,133.3M735.8,122.8Q737.0,90.4 766.7,103.6M735.8,122.8Q751.3,123.6 758.9,137.1M735.8,122.8Q744.6,83.7 781.1,100.4M735.8,122.8Q751.1,113.1 767.0,121.8M735.8,122.8Q742.7,115.2 750.9,121.3M735.8,122.8Q745.9,119.4 752.4,127.8M735.8,122.8Q761.4,106.5 767.0,136.3M735.8,122.8Q776.8,116.3 775.0,157.8M735.8,122.8Q754.5,113.9 771.0,126.3M735.8,122.8Q748.8,143.6 730.8,160.3M735.8,127.8Q743.9,82.0 789.8,74.4M735.8,127.8Q726.2,117.9 733.8,106.4M735.8,127.8Q758.8,119.5 779.6,132.3M735.8,127.8Q726.2,100.8 754.9,101.4M774.0,121.3Q742.8,143.7 733.8,106.4M774.0,121.3Q744.8,129.3 719.5,112.6M774.0,121.3Q762.7,163.6 719.4,157.5M774.0,121.3Q782.2,150.6 755.9,165.8M774.0,121.3Q785.8,131.7 780.1,146.3M774.0,121.3Q762.5,132.0 750.9,121.3M774.0,121.3Q763.2,133.7 746.9,135.8M774.0,121.3Q783.3,144.5 767.0,163.3M774.0,121.3Q756.0,149.0 735.8,122.8M774.0,121.3Q757.4,139.3 735.8,127.8M774.0,121.3Q785.9,130.2 776.0,141.3M774.0,121.3Q766.3,137.5 748.9,141.3M774.0,121.3Q778.4,169.7 730.8,160.3M767.0,136.3Q743.3,123.6 750.4,97.6M767.0,136.3Q748.5,140.3 741.6,122.6M767.0,136.3Q732.2,153.2 725.5,115.2M767.0,136.3Q765.3,133.2 768.5,131.5M767.0,136.3Q778.5,157.4 755.9,165.8M767.0,136.3Q766.9,122.6 778.6,115.4M767.0,136.3Q775.0,148.9 761.5,155.3M767.0,136.3Q767.6,160.7 745.9,171.7M767.0,136.3Q746.3,121.9 743.3,96.9M767.0,136.3Q743.7,124.8 754.9,101.4M767.0,136.3Q744.8,150.5 726.7,131.3M764.0,139.8Q728.9,127.8 750.4,97.6M764.0,139.8Q749.3,120.5 766.7,103.6M764.0,139.8Q748.0,128.6 752.7,109.6M764.0,139.8Q743.9,142.8 741.6,122.6M764.0,139.8Q762.1,147.1 754.7,146.1M764.0,139.8Q755.3,129.1 767.0,121.8M764.0,139.8Q742.0,150.4 726.7,131.3M764.0,139.8Q764.6,128.2 774.0,121.3M764.0,139.8Q756.2,133.9 761.0,125.3M775.0,157.8Q770.5,118.3 787.6,82.4M775.0,157.8Q742.6,155.2 741.6,122.6M775.0,157.8Q771.1,143.5 782.1,133.5M775.0,157.8Q763.2,150.4 758.9,137.1M775.0,157.8Q775.2,174.6 759.4,168.8M775.0,157.8Q773.2,163.8 767.0,163.3M775.0,157.8Q751.1,152.3 752.4,127.8M775.0,157.8Q760.4,166.0 753.4,150.8M776.0,141.3Q746.6,135.7 758.4,108.2M776.0,141.3Q758.7,138.2 756.4,120.7M776.0,141.3Q766.7,140.7 768.5,131.5M776.0,141.3Q753.3,168.9 719.4,157.5M776.0,141.3Q762.1,161.1 738.5,166.8M776.0,141.3Q779.4,138.8 783.6,139.3M776.0,141.3Q771.6,151.2 761.5,155.3M776.0,141.3Q754.9,135.5 757.9,113.9M776.0,141.3Q768.5,155.0 753.4,150.8M761.0,125.3Q750.5,129.8 741.6,122.6M761.0,125.3Q738.5,136.9 725.5,115.2M761.0,125.3Q763.4,109.2 778.6,115.4M761.0,125.3Q753.9,99.1 781.1,100.4M761.0,125.3Q775.5,139.9 772.0,160.3M761.0,125.3Q771.8,147.5 759.4,168.8M761.0,125.3Q782.2,125.1 780.1,146.3M761.0,125.3Q760.4,143.8 745.9,155.3M761.0,125.3Q747.6,113.9 743.3,96.9M761.0,125.3Q748.7,107.8 769.0,100.9M761.0,125.3Q758.3,132.1 752.4,127.8M761.0,125.3Q756.7,119.7 763.5,117.9M763.5,117.9Q760.7,121.0 756.4,120.7M763.5,117.9Q753.4,124.1 741.6,122.6M763.5,117.9Q778.2,132.5 776.7,153.3M763.5,117.9Q771.5,152.7 745.7,177.5M763.5,117.9Q758.1,141.2 734.8,146.8M771.0,126.3Q736.8,151.2 719.5,112.6M771.0,126.3Q755.7,142.9 733.3,140.7M771.0,126.3Q765.6,138.5 754.7,146.1M771.0,126.3Q772.3,136.9 764.5,144.0M771.0,126.3Q752.0,153.2 719.4,157.5M771.0,126.3Q797.0,156.2 759.4,168.8M771.0,126.3Q783.9,126.4 783.6,139.3M771.0,126.3Q780.8,133.9 780.1,146.3M771.0,126.3Q764.7,143.9 750.9,131.3M771.0,126.3Q762.2,153.1 734.8,146.8M771.0,126.3Q763.8,148.3 740.8,145.3M771.0,126.3Q773.5,170.2 730.8,160.3M748.9,141.3Q752.5,106.8 783.6,91.4M748.9,141.3Q731.9,133.0 725.5,115.2M748.9,141.3Q756.8,120.4 778.6,115.4M748.9,141.3Q766.5,143.5 772.0,160.3M748.9,141.3Q752.0,149.3 745.9,155.3M748.9,141.3Q728.2,121.3 743.3,96.9M748.9,141.3Q757.2,117.3 781.6,110.4M748.9,141.3Q744.7,135.3 750.9,131.3M748.9,141.3Q734.3,142.3 735.8,127.8M748.9,141.3Q762.5,123.7 776.0,141.3M740.8,145.3Q739.2,91.8 789.8,74.4M740.8,145.3Q724.5,114.8 758.4,108.2M740.8,145.3Q739.2,124.9 752.7,109.6M740.8,145.3Q711.7,141.0 719.5,112.6M740.8,145.3Q720.9,136.5 725.5,115.2M740.8,145.3Q735.4,145.7 733.3,140.7M740.8,145.3Q754.0,157.6 738.5,166.8M740.8,145.3Q757.3,149.0 755.9,165.8M740.8,145.3Q760.0,126.3 783.6,139.3M740.8,145.3Q719.9,114.4 754.9,101.4M730.8,160.3Q735.9,100.5 789.8,74.4M730.8,160.3Q730.5,100.4 787.6,82.4M730.8,160.3Q715.8,132.4 733.8,106.4M730.8,160.3Q706.0,140.9 719.5,112.6M730.8,160.3Q739.1,158.2 738.5,166.8M730.8,160.3Q746.6,148.2 755.9,165.8M730.8,160.3Q736.4,118.4 778.6,115.4M730.8,160.3Q742.6,136.4 761.5,155.3M723.2,145.3Q729.6,117.4 750.4,97.6M723.2,145.3Q709.9,120.8 733.8,106.4M723.2,145.3Q744.1,132.5 768.5,131.5M723.2,145.3Q744.5,98.5 782.1,133.5M723.2,145.3Q720.4,139.8 725.2,136.0M723.2,145.3Q744.6,154.3 745.7,177.5M723.2,145.3Q758.2,130.9 759.4,168.8M723.2,145.3Q751.8,135.2 780.1,146.3M723.2,145.3Q732.6,128.2 750.9,121.3M723.2,145.3Q739.7,140.2 753.4,150.8M723.2,145.3Q720.0,137.1 726.7,131.3M723.2,145.3Q743.6,133.4 767.0,136.3M761.0,146.3Q742.3,136.4 756.4,120.7M761.0,146.3Q752.6,142.8 746.9,135.8M761.0,146.3Q766.0,154.0 767.0,163.3M761.0,146.3Q745.5,141.0 735.8,127.8" fill="none" stroke="#3cbef4" stroke-width="0.3" stroke-opacity="0.45"/>
<path d="M683.5,76.9Q776.7,81.6 738.5,166.8M683.5,76.9Q752.4,94.7 755.9,165.8M681.5,133.3Q653.0,104.1 683.5,76.9M681.5,133.3Q716.1,110.0 756.4,120.7M681.5,133.3Q692.4,108.1 719.5,112.6M681.5,133.3Q725.7,92.6 772.3,130.5M681.5,133.3Q719.9,129.5 754.7,146.1M789.8,74.4Q794.3,115.6 758.9,137.1M789.8,74.4Q836.7,128.9 772.0,160.3M789.8,74.4Q789.6,126.4 759.4,168.8M789.8,74.4Q805.0,111.0 767.0,121.8M787.6,82.4Q790.3,121.9 752.7,109.6M787.6,82.4Q783.8,115.2 758.9,137.1M787.6,82.4Q774.3,138.8 719.4,157.5M783.6,91.4Q812.2,159.7 738.5,166.8M783.6,91.4Q826.4,161.6 745.7,177.5M750.4,97.6Q747.4,112.0 733.8,106.4M750.4,97.6Q748.0,120.5 725.5,115.2M750.4,97.6Q773.4,86.0 781.6,110.4M750.4,97.6Q776.5,112.5 764.0,139.8M750.4,97.6Q793.1,101.9 776.0,141.3M750.4,97.6Q759.8,105.9 763.5,117.9M764.0,100.5Q707.8,143.0 683.5,76.9M764.0,100.5Q767.5,82.5 783.6,91.4M764.0,100.5Q767.0,100.5 766.7,103.6M764.0,100.5Q774.8,114.8 768.5,131.5M764.0,100.5Q780.9,112.7 782.1,133.5M764.0,100.5Q769.0,118.2 750.9,121.3M764.0,100.5Q759.6,102.2 754.9,101.4M766.7,103.6Q752.4,131.7 725.5,115.2M766.7,103.6Q782.4,138.3 755.9,165.8M766.7,103.6Q788.6,119.8 767.0,136.3M758.4,108.2Q705.7,129.2 683.5,76.9M758.4,108.2Q759.1,125.9 741.6,122.6M758.4,108.2Q790.2,151.6 738.5,166.8M752.7,109.6Q760.6,87.7 783.6,91.4M752.7,109.6Q753.1,98.5 764.0,100.5M752.7,109.6Q755.5,139.9 725.2,136.0M766.5,113.2Q755.9,134.1 733.3,140.7M766.5,113.2Q787.8,141.7 753.4,150.8M756.4,120.7Q771.3,123.0 782.1,133.5M756.4,120.7Q745.8,147.0 719.4,157.5M756.4,120.7Q761.7,134.6 746.9,135.8M741.6,122.6Q716.3,154.9 681.5,133.3M741.6,122.6Q756.6,89.4 789.8,74.4M741.6,122.6Q758.2,101.1 783.6,91.4M741.6,122.6Q756.3,129.9 754.7,146.1M741.6,122.6Q779.8,114.3 776.7,153.3M741.6,122.6Q767.5,118.7 783.6,139.3M741.6,122.6Q752.8,88.0 781.6,110.4M733.8,106.4Q741.9,112.5 741.6,122.6M733.8,106.4Q755.3,104.5 761.0,125.3M719.5,112.6Q727.2,42.8 789.8,74.4M719.5,112.6Q766.9,121.2 759.4,168.8M719.5,112.6Q723.4,92.5 743.3,96.9M725.5,115.2Q737.3,89.4 758.4,108.2M725.5,115.2Q751.3,86.2 781.6,110.4M768.5,131.5Q757.6,122.7 752.7,109.6M768.5,131.5Q750.7,140.3 741.6,122.6M768.5,131.5Q760.9,133.1 761.0,125.3M768.5,131.5Q761.4,161.3 730.8,160.3M772.3,130.5Q753.0,93.7 789.8,74.4M782.1,133.5Q767.6,159.8 738.5,166.8M782.1,133.5Q792.3,146.9 776.7,153.3M782.1,133.5Q780.1,134.5 779.6,132.3M782.1,133.5Q775.1,166.7 741.8,160.3M778.6,137.1Q760.5,154.4 750.9,131.3M778.6,137.1Q779.7,140.7 776.0,141.3M725.2,136.0Q726.1,120.3 741.6,122.6M725.2,136.0Q749.3,124.3 753.4,150.8M725.2,136.0Q734.9,137.1 734.8,146.8M725.2,136.0Q752.8,140.9 775.0,157.8M733.3,140.7Q747.7,105.1 783.6,91.4M733.3,140.7Q734.4,115.6 758.4,108.2M733.3,140.7Q738.5,129.3 750.9,131.3M733.3,140.7Q748.8,128.6 767.0,136.3M733.3,140.7Q741.2,138.9 748.9,141.3M758.9,137.1Q738.2,123.0 758.4,108.2M758.9,137.1Q760.8,129.3 768.5,131.5M758.9,137.1Q738.6,157.9 726.7,131.3M754.7,146.1Q747.6,127.2 767.0,121.8M754.7,146.1Q739.1,128.3 757.9,113.9M754.7,146.1Q755.0,134.9 761.0,125.3M764.5,144.0Q751.8,120.0 778.6,115.4M764.5,144.0Q773.3,149.8 772.0,160.3M733.3,152.3Q737.5,122.3 766.5,113.2M733.3,152.3Q718.8,136.2 735.8,122.8M719.4,157.5Q724.5,136.2 741.6,122.6M719.4,157.5Q735.6,128.7 768.5,131.5M719.4,157.5Q745.6,137.4 778.6,137.1M719.4,157.5Q746.3,149.5 745.7,177.5M719.4,157.5Q722.0,139.5 735.8,127.8M738.5,166.8Q740.7,134.9 772.3,130.5M738.5,166.8Q749.4,167.3 745.7,177.5M738.5,166.8Q725.6,158.8 734.8,146.8M755.9,165.8Q722.9,134.1 750.4,97.6M755.9,165.8Q730.2,129.5 764.0,100.5M755.9,165.8Q730.2,139.0 752.7,109.6M755.9,165.8Q739.9,154.3 746.9,135.8M776.7,153.3Q714.5,212.9 681.5,133.3M776.7,153.3Q725.6,157.0 733.8,106.4M776.7,153.3Q720.6,171.6 719.5,112.6M776.7,153.3Q764.8,152.6 754.7,146.1M776.7,153.3Q749.7,178.1 719.4,157.5M776.7,153.3Q764.4,141.8 771.0,126.3M776.7,153.3Q766.4,155.3 761.0,146.3M745.7,177.5Q730.4,162.2 733.3,140.7M745.7,177.5Q720.9,182.8 719.4,157.5M745.7,177.5Q749.0,167.6 759.4,168.8M778.6,115.4Q771.1,151.2 734.8,146.8M781.1,100.4Q774.6,135.0 741.6,122.6M781.1,100.4Q790.9,135.6 767.0,163.3M781.1,100.4Q793.1,143.0 748.9,141.3M759.4,168.8Q724.2,139.0 758.4,108.2M759.4,168.8Q735.7,151.4 741.6,122.6M759.4,168.8Q756.6,168.5 755.9,165.8M759.4,168.8Q729.5,139.9 767.0,121.8M783.6,139.3Q759.0,133.4 758.4,108.2M783.6,139.3Q745.9,139.5 719.5,112.6M783.6,139.3Q770.5,146.7 758.9,137.1M780.1,146.3Q736.1,153.9 719.5,112.6M780.1,146.3Q777.2,144.5 776.0,141.3M780.1,146.3Q751.5,154.9 723.2,145.3M767.0,121.8Q753.1,149.6 725.2,136.0M767.0,121.8Q759.7,132.8 746.9,135.8M750.9,121.3Q752.5,113.5 758.4,108.2M750.9,121.3Q763.2,125.0 758.9,137.1M750.9,121.3Q763.1,110.8 778.6,115.4M750.9,121.3Q752.7,131.6 748.9,141.3M746.9,135.8Q745.5,117.9 763.5,117.9M746.9,135.8Q739.5,151.8 723.2,145.3M761.5,155.3Q761.5,162.0 755.9,165.8M745.9,155.3Q757.4,154.3 755.9,165.8M745.9,155.3Q760.6,143.1 776.7,153.3M745.9,155.3Q753.7,151.7 761.5,155.3M745.9,171.7Q730.3,136.5 768.5,131.5M767.0,163.3Q768.1,154.6 776.7,153.3M767.0,163.3Q740.5,149.4 750.9,121.3M767.0,163.3Q760.4,177.3 745.9,171.7M767.0,163.3Q768.2,156.4 775.0,157.8M743.3,96.9Q767.8,105.6 768.5,131.5M743.3,96.9Q758.8,115.1 746.9,135.8M743.3,96.9Q769.1,84.8 781.6,110.4M743.3,96.9Q763.5,105.7 771.0,126.3M754.9,101.4Q756.2,132.5 725.2,136.0M781.6,110.4Q765.5,118.6 764.0,100.5M781.6,110.4Q773.3,108.8 766.7,103.6M781.6,110.4Q775.1,130.4 756.4,120.7M781.6,110.4Q765.3,128.4 741.6,122.6M781.6,110.4Q751.9,150.4 719.5,112.6M781.6,110.4Q785.1,179.6 719.4,157.5M781.6,110.4Q757.3,135.9 723.2,145.3M769.0,100.9Q766.4,101.9 764.0,100.5M769.0,100.9Q774.1,142.5 733.3,152.3M752.4,127.8Q774.4,144.9 755.9,165.8M752.4,127.8Q763.6,147.0 759.4,168.8M750.9,131.3Q740.9,108.9 764.0,100.5M750.9,131.3Q739.5,141.3 725.2,136.0M750.9,131.3Q747.5,146.2 733.3,140.7M750.9,131.3Q742.0,135.5 735.8,127.8M750.9,131.3Q756.5,112.6 774.0,121.3M750.9,131.3Q759.0,120.8 771.0,126.3M753.4,150.8Q730.3,137.1 719.5,112.6M753.4,150.8Q746.9,148.1 748.9,141.3M753.4,150.8Q755.8,146.2 761.0,146.3M741.8,160.3Q741.5,164.2 738.5,166.8M741.8,160.3Q751.8,155.6 755.9,165.8M734.8,146.8Q739.4,123.1 758.4,108.2M726.7,131.3Q733.0,110.5 750.4,97.6M735.8,122.8Q742.0,113.3 752.7,109.6M735.8,127.8Q773.0,146.3 745.7,177.5M735.8,127.8Q746.9,88.1 781.6,110.4M735.8,127.8Q739.4,98.3 769.0,100.9M735.8,127.8Q752.7,111.0 771.0,126.3M735.8,127.8Q753.4,130.2 761.0,146.3M774.0,121.3Q776.5,129.3 768.5,131.5M774.0,121.3Q752.2,137.2 725.2,136.0M767.0,136.3Q756.7,143.4 746.9,135.8M764.0,139.8Q769.6,148.7 761.5,155.3M764.0,139.8Q752.2,155.2 734.8,146.8M775.0,157.8Q770.9,186.5 745.9,171.7M775.0,157.8Q717.7,148.9 743.3,96.9M775.0,157.8Q746.7,136.1 754.9,101.4M776.0,141.3Q776.6,138.8 778.6,137.1M776.0,141.3Q771.5,173.4 741.8,160.3M761.0,125.3Q761.9,120.0 767.0,121.8M761.0,125.3Q753.0,130.7 750.9,121.3M761.0,125.3Q753.0,114.6 754.9,101.4M761.0,125.3Q778.6,136.9 775.0,157.8M763.5,117.9Q758.6,109.2 766.7,103.6M763.5,117.9Q758.3,141.9 741.8,160.3M763.5,117.9Q785.9,120.9 776.0,141.3M763.5,117.9Q767.0,123.2 761.0,125.3M771.0,126.3Q757.6,127.3 757.9,113.9M748.9,141.3Q740.1,126.4 756.4,120.7M748.9,141.3Q763.2,127.9 782.1,133.5M748.9,141.3Q741.0,112.2 769.0,100.9M740.8,145.3Q745.6,114.6 772.3,130.5M740.8,145.3Q745.3,131.2 758.9,137.1M740.8,145.3Q752.2,136.9 764.5,144.0M730.8,160.3Q728.1,129.0 752.7,109.6M730.8,160.3Q736.3,152.9 741.8,160.3M723.2,145.3Q716.3,73.8 787.6,82.4M723.2,145.3Q743.2,106.9 783.6,91.4M723.2,145.3Q729.4,119.0 756.4,120.7M723.2,145.3Q699.6,131.4 719.5,112.6M723.2,145.3Q739.2,134.9 754.7,146.1M723.2,145.3Q753.8,123.5 776.7,153.3M723.2,145.3Q742.8,140.0 741.8,160.3M761.0,146.3Q754.2,106.0 787.6,82.4M761.0,146.3Q744.3,122.2 764.0,100.5M761.0,146.3Q777.0,158.7 759.4,168.8" fill="none" stroke="#2470d4" stroke-width="0.3" stroke-opacity="0.45"/>
<path d="M683.5,76.9L787.6,82.4M683.5,76.9L764.0,100.5M683.5,76.9L758.4,108.2M683.5,76.9L725.5,115.2M683.5,76.9L754.7,146.1M683.5,76.9L764.5,144.0M683.5,76.9L733.3,152.3M683.5,76.9L738.5,166.8M683.5,76.9L776.7,153.3M683.5,76.9L745.7,177.5M683.5,76.9L774.0,121.3M681.5,133.3L764.0,100.5M681.5,133.3L754.7,146.1M681.5,133.3L733.3,152.3M681.5,133.3L719.4,157.5M789.8,74.4L766.5,113.2M789.8,74.4L733.8,106.4M789.8,74.4L719.5,112.6M789.8,74.4L725.5,115.2M789.8,74.4L758.9,137.1M789.8,74.4L733.3,152.3M789.8,74.4L781.1,100.4M789.8,74.4L767.0,121.8M789.8,74.4L746.9,135.8M789.8,74.4L753.4,150.8M789.8,74.4L764.0,139.8M789.8,74.4L776.0,141.3M789.8,74.4L761.0,125.3M789.8,74.4L730.8,160.3M789.8,74.4L761.0,146.3M787.6,82.4L764.0,100.5M787.6,82.4L752.7,109.6M787.6,82.4L725.5,115.2M787.6,82.4L772.3,130.5M787.6,82.4L755.9,165.8M787.6,82.4L745.9,155.3M787.6,82.4L743.3,96.9M787.6,82.4L757.9,113.9M787.6,82.4L761.0,125.3M787.6,82.4L748.9,141.3M783.6,91.4L725.5,115.2M783.6,91.4L782.1,133.5M783.6,91.4L745.9,155.3M783.6,91.4L752.4,127.8M783.6,91.4L748.9,141.3M783.6,91.4L723.2,145.3M783.6,91.4L761.0,146.3M750.4,97.6L764.0,100.5M750.4,97.6L752.7,109.6M750.4,97.6L782.1,133.5M750.4,97.6L758.9,137.1M750.4,97.6L764.5,144.0M750.4,97.6L719.4,157.5M750.4,97.6L750.9,131.3M750.4,97.6L734.8,146.8M750.4,97.6L767.0,136.3M750.4,97.6L764.0,139.8M764.0,100.5L733.8,106.4M764.0,100.5L725.5,115.2M764.0,100.5L768.5,131.5M764.0,100.5L772.3,130.5M764.0,100.5L738.5,166.8M764.0,100.5L745.7,177.5M764.0,100.5L761.5,155.3M764.0,100.5L745.9,171.7M764.0,100.5L767.0,163.3M764.0,100.5L753.4,150.8M764.0,100.5L741.8,160.3M764.0,100.5L767.0,136.3M764.0,100.5L763.5,117.9M766.7,103.6L758.4,108.2M766.7,103.6L752.7,109.6M766.7,103.6L778.6,137.1M766.7,103.6L725.2,136.0M766.7,103.6L733.3,140.7M766.7,103.6L764.5,144.0M766.7,103.6L733.3,152.3M766.7,103.6L779.6,132.3M766.7,103.6L761.5,155.3M766.7,103.6L767.0,136.3M758.4,108.2L741.6,122.6M758.4,108.2L768.5,131.5M758.4,108.2L754.7,146.1M758.4,108.2L781.1,100.4M758.4,108.2L772.0,160.3M758.4,108.2L743.3,96.9M758.4,108.2L761.0,146.3M752.7,109.6L719.5,112.6M752.7,109.6L782.1,133.5M752.7,109.6L758.9,137.1M752.7,109.6L764.5,144.0M752.7,109.6L776.7,153.3M752.7,109.6L735.8,127.8M766.5,113.2L733.8,106.4M766.5,113.2L758.9,137.1M766.5,113.2L779.6,132.3M766.5,113.2L746.9,135.8M766.5,113.2L761.5,155.3M766.5,113.2L735.8,127.8M766.5,113.2L761.0,125.3M756.4,120.7L764.5,144.0M756.4,120.7L738.5,166.8M756.4,120.7L767.0,163.3M756.4,120.7L750.9,131.3M756.4,120.7L734.8,146.8M756.4,120.7L735.8,127.8M756.4,120.7L730.8,160.3M741.6,122.6L719.5,112.6M741.6,122.6L725.5,115.2M741.6,122.6L772.3,130.5M741.6,122.6L778.6,137.1M741.6,122.6L733.3,140.7M741.6,122.6L764.5,144.0M741.6,122.6L733.3,152.3M741.6,122.6L755.9,165.8M741.6,122.6L778.6,115.4M741.6,122.6L783.6,139.3M741.6,122.6L780.1,146.3M741.6,122.6L745.9,155.3M741.6,122.6L781.6,110.4M741.6,122.6L769.0,100.9M741.6,122.6L757.9,113.9M741.6,122.6L753.4,150.8M741.6,122.6L775.0,157.8M741.6,122.6L763.5,117.9M733.8,106.4L782.1,133.5M733.8,106.4L733.3,152.3M733.8,106.4L745.7,177.5M733.8,106.4L750.9,131.3M733.8,106.4L723.2,145.3M719.5,112.6L782.1,133.5M719.5,112.6L726.7,131.3M719.5,112.6L776.0,141.3M725.5,115.2L758.9,137.1M725.5,115.2L761.5,155.3M725.5,115.2L743.3,96.9M725.5,115.2L734.8,146.8M725.5,115.2L735.8,127.8M725.5,115.2L775.0,157.8M725.5,115.2L748.9,141.3M768.5,131.5L772.3,130.5M768.5,131.5L733.3,152.3M768.5,131.5L755.9,165.8M768.5,131.5L767.0,121.8M768.5,131.5L754.9,101.4M768.5,131.5L735.8,122.8M768.5,131.5L761.0,146.3M772.3,130.5L764.5,144.0M772.3,130.5L733.3,152.3M772.3,130.5L755.9,165.8M772.3,130.5L776.7,153.3M772.3,130.5L781.1,100.4M772.3,130.5L779.6,132.3M772.3,130.5L746.9,135.8M772.3,130.5L740.8,145.3M772.3,130.5L723.2,145.3M782.1,133.5L738.5,166.8M782.1,133.5L776.7,153.3M782.1,133.5L745.7,177.5M782.1,133.5L783.6,139.3M782.1,133.5L779.6,132.3M782.1,133.5L761.5,155.3M782.1,133.5L750.9,131.3M782.1,133.5L735.8,122.8M782.1,133.5L730.8,160.3M778.6,137.1L738.5,166.8M778.6,137.1L772.0,160.3M778.6,137.1L759.4,168.8M778.6,137.1L783.6,139.3M778.6,137.1L767.0,121.8M778.6,137.1L769.0,100.9M725.2,136.0L738.5,166.8M725.2,136.0L778.6,115.4M725.2,136.0L767.0,121.8M725.2,136.0L752.4,127.8M725.2,136.0L750.9,131.3M725.2,136.0L741.8,160.3M733.3,140.7L758.9,137.1M733.3,140.7L719.4,157.5M733.3,140.7L738.5,166.8M733.3,140.7L745.7,177.5M733.3,140.7L745.9,155.3M733.3,140.7L769.0,100.9M733.3,140.7L741.8,160.3M733.3,140.7L761.0,125.3M758.9,137.1L738.5,166.8M758.9,137.1L776.7,153.3M758.9,137.1L746.9,135.8M758.9,137.1L757.9,113.9M758.9,137.1L753.4,150.8M758.9,137.1L734.8,146.8M754.7,146.1L719.4,157.5M754.7,146.1L755.9,165.8M754.7,146.1L759.4,168.8M754.7,146.1L745.9,155.3M754.7,146.1L753.4,150.8M754.7,146.1L776.0,141.3M754.7,146.1L763.5,117.9M754.7,146.1L771.0,126.3M764.5,144.0L781.1,100.4M764.5,144.0L743.3,96.9M764.5,144.0L723.2,145.3M733.3,152.3L759.4,168.8M733.3,152.3L761.5,155.3M733.3,152.3L754.9,101.4M733.3,152.3L753.4,150.8M733.3,152.3L764.0,139.8M719.4,157.5L772.0,160.3M719.4,157.5L779.6,132.3M719.4,157.5L750.9,121.3M719.4,157.5L745.9,155.3M719.4,157.5L741.8,160.3M719.4,157.5L764.0,139.8M719.4,157.5L763.5,117.9M719.4,157.5L723.2,145.3M738.5,166.8L776.7,153.3M738.5,166.8L745.7,177.5M738.5,166.8L778.6,115.4M738.5,166.8L750.9,131.3M738.5,166.8L734.8,146.8M738.5,166.8L764.0,139.8M755.9,165.8L745.7,177.5M755.9,165.8L781.1,100.4M755.9,165.8L772.0,160.3M755.9,165.8L759.4,168.8M755.9,165.8L754.9,101.4M755.9,165.8L781.6,110.4M755.9,165.8L761.0,125.3M755.9,165.8L761.0,146.3M776.7,153.3L779.6,132.3M776.7,153.3L757.9,113.9M776.7,153.3L750.9,131.3M776.7,153.3L775.0,157.8M776.7,153.3L763.5,117.9M745.7,177.5L740.8,145.3M778.6,115.4L750.9,121.3M778.6,115.4L781.6,110.4M781.1,100.4L761.5,155.3M781.1,100.4L775.0,157.8M772.0,160.3L743.3,96.9M772.0,160.3L735.8,122.8M759.4,168.8L781.6,110.4M759.4,168.8L771.0,126.3M783.6,139.3L761.5,155.3M783.6,139.3L723.2,145.3M780.1,146.3L734.8,146.8M780.1,146.3L763.5,117.9M779.6,132.3L776.0,141.3M779.6,132.3L771.0,126.3M779.6,132.3L748.9,141.3M750.9,121.3L746.9,135.8M750.9,121.3L743.3,96.9M750.9,121.3L730.8,160.3M750.9,121.3L761.0,146.3M746.9,135.8L754.9,101.4M746.9,135.8L761.0,125.3M761.5,155.3L735.8,127.8M761.5,155.3L776.0,141.3M745.9,155.3L771.0,126.3M745.9,155.3L740.8,145.3M745.9,171.7L757.9,113.9M745.9,171.7L741.8,160.3M745.9,171.7L734.8,146.8M745.9,171.7L735.8,127.8M745.9,171.7L764.0,139.8M767.0,163.3L735.8,127.8M743.3,96.9L776.0,141.3M754.9,101.4L757.9,113.9M769.0,100.9L750.9,131.3M757.9,113.9L735.8,127.8M752.4,127.8L761.0,125.3M750.9,131.3L734.8,146.8M750.9,131.3L740.8,145.3M741.8,160.3L771.0,126.3M726.7,131.3L771.0,126.3M726.7,131.3L730.8,160.3M735.8,122.8L764.0,139.8M735.8,122.8L775.0,157.8M735.8,122.8L761.0,125.3M735.8,127.8L776.0,141.3M774.0,121.3L763.5,117.9M774.0,121.3L723.2,145.3M767.0,136.3L775.0,157.8M761.0,125.3L761.0,146.3" fill="none" stroke="#ee3048" stroke-width="0.3" stroke-opacity="0.45"/>
<path d="M683.5,76.9L789.8,74.4M683.5,76.9L741.6,122.6M683.5,76.9L782.1,133.5M683.5,76.9L725.2,136.0M683.5,76.9L719.4,157.5M683.5,76.9L735.8,122.8M789.8,74.4L764.0,100.5M789.8,74.4L741.6,122.6M789.8,74.4L754.7,146.1M789.8,74.4L719.4,157.5M789.8,74.4L755.9,165.8M789.8,74.4L745.7,177.5M787.6,82.4L768.5,131.5M787.6,82.4L738.5,166.8M787.6,82.4L772.0,160.3M787.6,82.4L740.8,145.3M783.6,91.4L778.6,137.1M783.6,91.4L733.3,140.7M750.4,97.6L772.3,130.5M764.0,100.5L725.2,136.0M764.0,100.5L758.9,137.1M764.0,100.5L755.9,165.8M766.7,103.6L741.6,122.6M758.4,108.2L776.7,153.3M766.5,113.2L781.6,110.4M766.5,113.2L763.5,117.9M766.5,113.2L748.9,141.3M741.6,122.6L782.1,133.5M733.8,106.4L761.0,146.3M719.5,112.6L767.0,136.3M768.5,131.5L733.3,140.7M768.5,131.5L758.9,137.1M768.5,131.5L764.5,144.0M768.5,131.5L734.8,146.8M768.5,131.5L740.8,145.3M772.3,130.5L759.4,168.8M772.3,130.5L750.9,131.3M782.1,133.5L719.4,157.5M782.1,133.5L769.0,100.9M725.2,136.0L719.4,157.5M725.2,136.0L755.9,165.8M733.3,140.7L726.7,131.3M758.9,137.1L745.9,171.7M764.5,144.0L753.4,150.8M733.3,152.3L755.9,165.8M755.9,165.8L750.9,131.3M776.7,153.3L734.8,146.8M772.0,160.3L764.0,139.8M767.0,121.8L740.8,145.3M771.0,126.3L761.0,146.3" fill="none" stroke="#8c1030" stroke-width="0.3" stroke-opacity="0.5"/>
</svg>
</body></html>
